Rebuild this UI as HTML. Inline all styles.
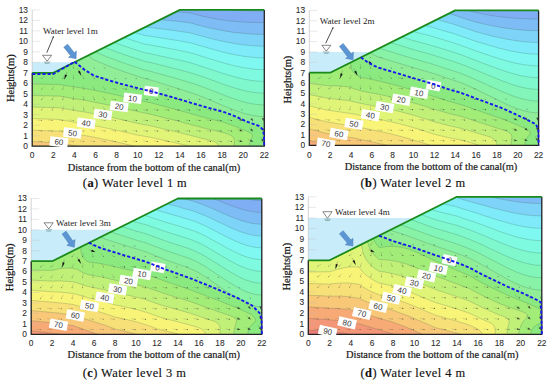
<!DOCTYPE html><html><head><meta charset="utf-8"><style>html,body{margin:0;padding:0;background:#fff}svg{display:block}</style></head><body><svg width="550" height="383" viewBox="0 0 550 383"><path d="M32.2,72.8 L32.2,62.3 L74.4,62.3 L53.3,72.8Z" fill="#c8ecfa"/><clipPath id="doma"><path d="M32.2,146.2 264.3,146.2 264.3,9.9 179.9,9.9 53.3,72.8 32.2,72.8Z"/></clipPath>
<g clip-path="url(#doma)">
<path d="M32.2,146.2 264.3,146.2 264.3,9.9 179.9,9.9 53.3,72.8 32.2,72.8Z" fill="#80aaf2"/>
<path d="M32.2,146.2 264.3,146.2 264.3,9.9 179.9,9.9 53.3,72.8 32.2,72.8Z" fill="#80acf4"/>
<path fill-rule="evenodd" d="M229,9.9 32.2,9.9 32.2,146.2 264.3,146.2 264.3,10.9 245.3,10.7 229,9.9Z" fill="#80aef4"/>
<path fill-rule="evenodd" d="M144.6,9.9 32.2,9.9 32.2,146.2 264.3,146.2 264.3,22.7 247.4,22.3 231.6,21.1 221,19.7 210.5,17.9 200.5,15.7 190.4,12.9 176.2,11.7 150.4,10 144.6,9.9Z" fill="#7ebcf6"/>
<path fill-rule="evenodd" d="M118.2,9.9 32.2,9.9 32.2,146.2 264.3,146.2 264.3,34.4 256.9,34.3 249,33.9 233.7,32.4 223.2,30.7 212.6,28.6 201.5,26 190.4,22.9 176.2,21.2 150.4,18.7 145.1,18.5 124,11.9 118.2,9.9Z" fill="#7ed4f8"/>
<path fill-rule="evenodd" d="M95.5,9.9 32.2,9.9 32.2,146.2 264.3,146.2 264.3,46.2 257.4,46 250.6,45.6 243.2,44.8 235.8,43.8 225.8,42 215.2,39.6 203.6,36.6 190.4,32.9 176.2,30.8 150.4,27.5 145.1,27.1 124,20.4 107.6,14.7 95.5,9.9Z" fill="#7eeafa"/>
<path fill-rule="evenodd" d="M83.4,9.9 32.2,9.9 32.2,146.2 264.3,146.2 264.3,57.9 258,57.8 251.1,57.2 244.3,56.4 237.4,55.2 227.9,53.3 217.9,50.8 190.4,42.8 176.2,40.3 150.4,36.2 145.1,35.7 124,29 107.6,23.1 93.4,17.4 83.8,9.9 83.4,9.9Z" fill="#7ef8f0"/>
<path fill-rule="evenodd" d="M74.9,9.9 32.2,9.9 32.2,146.2 264.3,146.2 264.3,69.7 258,69.5 251.6,68.9 244.8,67.9 237.9,66.6 230,64.7 221,62.2 190.4,52.8 176.2,49.8 150.4,45 145.1,44.3 142.4,43.5 124,37.5 107.6,31.6 93.4,25.8 83.9,18.4 74.9,9.9Z" fill="#7efae0"/>
<path fill-rule="evenodd" d="M58.6,9.9 32.2,9.9 32.2,146.2 264.3,146.2 264.3,81.4 258,81.2 251.6,80.5 244.8,79.3 237.4,77.6 223.7,73.7 190.4,62.7 176.2,59.4 150.4,53.8 145.1,52.9 124,46 107.6,40.1 93.4,34.3 83.9,26.8 74.4,17.7 58.6,9.9Z" fill="#7ef8cc"/>
<path fill-rule="evenodd" d="M41.7,9.9 32.2,9.9 32.2,146.2 264.3,146.2 264.3,93.1 258,92.9 251.6,92.1 244.8,90.8 237.4,88.8 225.8,85.1 202.6,76.7 192.6,73.4 175.7,68.8 150.4,62.5 145.1,61.5 124,54.6 107.6,48.6 93.4,42.7 83.9,35.2 74.4,26.1 41.7,9.9Z" fill="#82f6b8"/>
<path fill-rule="evenodd" d="M32.2,13.5 32.2,146.2 264.3,146.2 264.3,104.9 258.5,104.6 252.7,103.9 246.4,102.6 239.5,100.7 228.4,96.9 204.7,87.6 194.7,84 175.7,78.3 150.4,71.3 143,69.5 124,63.1 107.6,57.1 93.4,51.2 83.9,43.7 74.4,34.5 32.2,13.5Z" fill="#88f2a6"/>
<path fill-rule="evenodd" d="M32.2,21.9 32.2,146.2 264.3,146.2 264.3,116.6 259,116.4 253.2,115.6 246.9,114.2 240.6,112.3 230,108.5 206.3,98.4 196.3,94.5 175.7,87.8 150.4,80 142.4,77.9 124,71.7 107.1,65.4 93.4,59.6 83.9,52.1 74.4,42.9 32.2,21.9Z" fill="#90ee98"/>
<path fill-rule="evenodd" d="M74.9,62.1 74.4,62.1 73.9,62.6 73.3,62.6 72.8,63.1 72.3,63.1 71.2,64.2 70.7,64.2 70.2,64.7 69.1,64.7 68.6,65.2 68.1,65.2 67.5,65.7 67,65.7 66,66.8 65.4,66.8 64.9,67.3 63.9,67.3 63.3,67.8 62.8,67.8 62.3,68.4 61.7,68.4 60.7,69.4 60.2,69.4 59.6,69.9 58.6,69.9 58,70.4 57.5,70.4 57,71 56.5,71 55.4,72 54.9,72 54.4,72.5 32.2,72.5 32.2,146.2 264.3,146.2 264,145.7 264.2,141.5 264.1,135.2 264,134.1 263.7,133.6 263.5,132 263.1,131.5 263,129.9 262.5,129.4 262.5,128.9 262.2,128.6 261.7,128.6 258.5,125.7 257.4,125.7 256.9,125.1 255.9,125.1 255.3,124.6 254.3,124.6 253.8,124.1 252.7,124.1 252.2,123.6 251.1,123.6 250.6,123.1 250.1,123.1 249.5,122.5 248.5,122.5 247.9,122 246.9,122 246.4,121.5 245.8,121.5 245.3,121 244.8,121 244.3,120.5 243.7,120.5 243.2,119.9 242.1,119.9 241.6,119.4 241.1,119.4 240.6,118.9 240,118.9 239.5,118.4 239,118.4 238.5,117.8 237.9,117.8 237.4,117.3 236.3,117.3 235.8,116.8 235.3,116.8 234.8,116.3 233.7,116.3 233.2,115.7 232.7,115.7 232.1,115.2 231.6,115.2 231.1,114.7 230,114.7 229.5,114.2 229,114.2 228.4,113.7 227.4,113.6 226.8,113.1 226.3,113.1 225.8,112.6 224.7,112.6 224.2,112.1 222.6,112.1 222.1,111.5 220.5,111.5 220,111 218.9,111 218.4,110.5 216.8,110.5 216.3,110 215.2,110 214.7,109.4 213.1,109.4 212.6,108.9 211,108.9 210.5,108.4 209.4,108.3 208.9,107.8 207.3,107.8 206.8,107.3 205.2,107.3 204.7,106.8 203.6,106.7 203.1,106.2 201.5,106.1 201,105.7 199.9,105.6 199.4,105.1 197.8,105 197.3,104.6 196.3,104.5 195.7,104 194.7,104 194.1,103.5 192.6,103.5 192,103 191,103 190.4,102.4 189.4,102.4 188.9,101.9 187.3,101.9 186.8,101.4 185.7,101.4 185.2,100.9 184.1,100.9 183.6,100.3 182.5,100.3 182,99.8 180.4,99.8 179.9,99.3 178.8,99.3 178.3,98.8 177.3,98.8 176.7,98.2 175.2,98.2 174.6,97.7 173.6,97.7 173,97.2 171.5,97.2 170.9,96.7 169.4,96.7 168.8,96.1 167.8,96.1 167.2,95.6 165.7,95.6 165.1,95.1 164.1,95.1 163.5,94.6 162,94.6 161.4,94 160.4,94 159.9,93.5 158.3,93.5 157.7,93 156.7,93 156.2,92.5 154.6,92.5 154.1,91.9 152.5,91.9 151.9,91.4 150.9,91.4 150.4,90.9 148.8,90.9 148.2,90.4 146.1,90.4 145.6,89.8 144,89.8 143.5,89.3 141.4,89.3 140.9,88.8 139.3,88.8 138.8,88.3 137.2,88.3 136.6,87.7 135.6,87.7 135.1,87.2 133.5,87.2 133,86.7 131.4,86.7 130.8,86.2 129.3,86.2 128.7,85.7 127.2,85.7 126.6,85.1 125,85.1 124.5,84.6 122.9,84.6 122.4,84.1 121.3,84.1 120.8,83.6 119.2,83.6 118.7,83 117.7,83 117.1,82.5 115.5,82.5 115,82 114,82 113.4,81.5 111.9,81.5 111.3,80.9 110.3,80.9 109.7,80.4 108.2,80.4 107.6,79.9 106.6,79.9 106.1,79.4 105,79.4 104.5,78.8 103.4,78.8 102.9,78.3 101.8,78.3 101.3,77.8 100.2,77.8 99.7,77.3 98.7,77.3 98.1,76.7 97.1,76.7 96.6,76.2 95.5,76.2 95,75.7 93.9,75.7 93.4,75.2 92.9,75.2 91.8,74.1 91.3,74.1 90.2,73.1 89.7,73.1 89.2,72.5 88.6,72.5 87.6,71.5 87.1,71.5 86,70.4 85.5,70.4 85,69.9 84.4,69.9 82.3,67.8 81.8,67.8 79.7,65.7 79.1,65.7 76.5,63.1 76,63.1 74.9,62.1Z" fill="#8aea80"/>
<path fill-rule="evenodd" d="M52.8,84.3 32.2,83.9 32.2,146.2 249.2,146.2 249.5,143.6 250,141.5 252.3,136.8 252.4,135.7 252.2,134.7 251.3,133.6 249.5,132.4 236.3,126.8 225.3,122.8 202.1,116.8 176.2,109.5 150.4,102.7 142.4,101 114.5,94.5 93.4,90.1 86,88.7 59.6,84.5 52.8,84.3Z" fill="#a2ec78"/>
<path fill-rule="evenodd" d="M48.6,95.9 32.2,95.5 32.2,146.2 234.2,146.2 234.5,140.4 234.1,138.9 233.6,137.8 232.1,136.2 230.6,135.2 228.2,134.1 225.3,133.1 202.1,127.6 176.2,120.7 150.4,114.2 137.7,111.6 111.3,105.5 86,100.5 72.3,98.4 59.6,96.1 48.6,95.9Z" fill="#c0f078"/>
<path fill-rule="evenodd" d="M45.9,107.4 32.2,107 32.2,146.2 218.7,146.2 218,144.6 216.6,143.1 214.7,141.8 212.1,140.8 202.1,138.4 176.2,131.8 150.4,125.8 137.7,123.4 112.9,117.6 86,112.2 74.4,110.5 59.6,107.8 45.9,107.4Z" fill="#e0f478"/>
<path fill-rule="evenodd" d="M43.8,118.9 32.2,118.5 32.2,146.2 189.6,146.2 176.2,143 150.4,137.3 137.7,135.1 115,129.8 93.4,125.3 86,124 72.3,121.8 59.6,119.5 43.8,118.9Z" fill="#f8f478"/>
<path fill-rule="evenodd" d="M42.2,130.5 32.2,130.1 32.2,146.2 134.9,146.2 115,141.6 97.1,137.8 86,135.7 74.4,133.9 59.6,131.2 42.2,130.5Z" fill="#f8e078"/>
<path fill-rule="evenodd" d="M41.2,142 32.2,141.6 32.2,146.2 77.8,146.2 59.6,142.8 41.2,142Z" fill="#f8c878"/>
<path d="M264.3,10.9 244.8,10.7 229.5,9.9M264.3,22.7 247.4,22.3 231.6,21.1 221,19.7 210.5,17.9 200.5,15.7 190.4,12.9 176.2,11.7 150.4,10 145,9.9M264.3,34.4 256.9,34.3 249,33.9 233.7,32.4 223.2,30.7 212.6,28.6 201.5,26 190.4,22.9 176.2,21.2 150.4,18.7 145.1,18.5 124,11.9 118.3,9.9M264.3,46.2 257.4,46 250.6,45.6 243.2,44.8 235.8,43.8 225.8,42 215.2,39.6 203.6,36.6 190.4,32.9 176.2,30.8 150.4,27.5 145.1,27.1 124,20.4 107.6,14.7 95.8,9.9M264.3,57.9 258,57.8 251.1,57.2 244.3,56.4 237.4,55.2 227.9,53.3 217.9,50.8 190.4,42.8 176.2,40.3 150.4,36.2 145.1,35.7 124,29 107.6,23.1 93.4,17.4 83.8,9.9M264.3,69.7 258,69.5 251.6,68.9 244.8,67.9 237.9,66.6 230,64.7 221,62.2 190.4,52.8 176.2,49.8 150.4,45 145.1,44.3 142.4,43.5 124,37.5 107.6,31.6 93.4,25.8 83.9,18.4 75.1,9.9M264.3,81.4 258,81.2 251.6,80.5 244.8,79.3 237.4,77.6 223.7,73.7 190.4,62.7 176.2,59.4 150.4,53.8 145.1,52.9 124,46 107.6,40.1 93.4,34.3 83.9,26.8 74.4,17.7 58.7,9.9M264.3,93.1 258,92.9 251.6,92.1 244.8,90.8 237.4,88.8 225.8,85.1 202.6,76.7 192.6,73.4 175.7,68.8 150.4,62.5 145.1,61.5 124,54.6 107.6,48.6 93.4,42.7 83.9,35.2 74.4,26.1 41.8,9.9M264.3,104.9 258.5,104.6 252.7,103.9 246.4,102.6 239.5,100.7 228.4,96.9 204.7,87.6 194.7,84 175.7,78.3 150.4,71.3 143,69.5 124,63.1 107.6,57.1 93.4,51.2 83.9,43.7 74.4,34.5 32.2,13.5M264.3,116.6 259,116.4 253.2,115.6 246.9,114.2 240.6,112.3 230,108.5 206.3,98.4 196.3,94.5 175.7,87.8 150.4,80 142.4,77.9 124,71.7 107.1,65.4 93.4,59.6 83.9,52.1 74.4,42.9 32.2,21.9M249.2,146.2 249.5,143.6 250,141.5 250.6,139.9 252,137.3 252.4,136.2 252.2,134.7 251.3,133.6 248.8,132 236.3,126.8 224.7,122.6 202.1,116.8 176.2,109.5 150.4,102.7 142.4,101 115,94.6 97.1,90.8 86,88.7 59.6,84.5 32.2,83.9M234.2,146.2 234.5,141 234.1,138.9 233.6,137.8 232.7,136.7 231.4,135.7 229.5,134.7 224.7,133 202.1,127.6 175.7,120.5 149.8,114.1 137.7,111.6 112.4,105.8 86,100.5 72.3,98.4 59.6,96.1 32.2,95.5M218.7,146.2 217.6,144.1 215.9,142.5 213.7,141.3 211,140.5 202.1,138.4 176.2,131.8 150.4,125.8 137.7,123.4 111.3,117.3 86,112.2 74.4,110.5 59.6,107.8 32.2,107M189.6,146.2 176.2,143 150.4,137.3 137.7,135.1 112.9,129.4 86,124 74.4,122.2 59.6,119.5 32.2,118.5M134.9,146.2 115,141.6 97.1,137.8 86,135.7 74.4,133.9 59.6,131.2 32.2,130.1M77.8,146.2 59.6,142.8 32.2,141.6" fill="none" stroke="#3a5a48" stroke-opacity="0.45" stroke-width="0.5"/>
</g><path d="M32.2,72.8V9.9" stroke="#c8c8c8" stroke-width="0.8" fill="none"/>
<path d="M32.2,146.2h8M32.2,135.7h8M32.2,125.2h8M32.2,114.7h8M32.2,104.3h8M32.2,93.8h8M32.2,83.3h8M32.2,72.8h8M32.2,62.3h8M32.2,51.8h8M32.2,41.4h8M32.2,30.9h8M32.2,20.4h8M32.2,9.9h8" stroke="#bbb" stroke-opacity="0.55" stroke-width="0.6" fill="none"/>
<path d="M32.2,72.8V146.2H264.3V9.9" stroke="#222" stroke-width="1.3" fill="none"/>
<path d="M32.2,72.8L53.3,72.8L179.9,9.9L264.3,9.9" stroke="#1a8a1a" stroke-width="1.8" fill="none" stroke-linejoin="round"/>
<path d="M37.7,141L41.7,141.5M37.7,130.5L41.7,131M37.7,120L41.7,120.5M43.6,106.9L41.7,110M43.9,96.6L41.7,99.5M44.3,86.5L41.7,89.1M44.8,76.5L41.7,78.6M48.3,141L52.2,141.5M48.3,130.5L52.2,131M48.3,120L52.2,120.5M53.7,106.6L52.2,110M53.9,96.3L52.2,99.5M54.3,86L52.2,89.1M54.9,76L52.2,78.6M58.8,141L62.8,141.5M58.8,130.5L62.8,131M58.8,120L62.8,120.5M63.6,106.4L62.8,110M63.8,96L62.8,99.5M64,85.6L62.8,89.1M64.5,75.3L62.8,78.6M69.4,141L73.3,141.5M69.4,130.5L73.3,131M69.4,120L73.3,120.5M73.4,106.4L73.3,110M73.5,95.9L73.3,99.5M73.5,85.4L73.3,89.1M73.6,74.9L73.3,78.6M73.7,64.4L73.3,68.1M79.9,141L83.9,141.5M79.9,130.5L83.9,131M79.9,120L83.9,120.5M83.3,106.4L83.9,110M83.1,96L83.9,99.5M82.9,85.5L83.9,89.1M82.5,75.2L83.9,78.6M82.9,66.9L83.9,68.1M90.5,141L94.4,141.5M90.5,130.5L94.4,131M90.5,120L94.4,120.5M93.2,106.6L94.4,110M92.9,96.2L94.4,99.5M92.5,85.9L94.4,89.1M92,75.8L94.4,78.6M93.1,67.3L94.4,68.1M101,141L105,141.5M101,130.5L105,131M101,120L105,120.5M103.2,106.8L105,110M102.9,96.5L105,99.5M102.5,86.4L105,89.1M103.7,77.6L105,78.6M103.5,67.5L105,68.1M111.6,141L115.5,141.5M111.6,130.5L115.5,131M111.6,120L115.5,120.5M111.6,109.6L115.5,110M111.6,99.1L115.5,99.5M111.6,88.6L115.5,89.1M114,78.4L115.5,78.6M122.1,141L126.1,141.5M122.1,130.5L126.1,131M122.1,120L126.1,120.5M122.1,109.6L126.1,110M122.1,99.1L126.1,99.5M122.1,88.6L126.1,89.1M124.5,78.4L126.1,78.6M132.7,141L136.6,141.5M132.7,130.5L136.6,131M132.7,120L136.6,120.5M132.7,109.6L136.6,110M132.7,99.1L136.6,99.5M132.7,88.6L136.6,89.1M135.1,78.4L136.6,78.6M143.2,141L147.2,141.5M143.2,130.5L147.2,131M143.2,120L147.2,120.5M143.2,109.6L147.2,110M143.2,99.1L147.2,99.5M145.6,88.9L147.2,89.1M145.6,78.4L147.2,78.6M153.8,141L157.7,141.5M153.8,130.5L157.7,131M153.8,120L157.7,120.5M153.8,109.6L157.7,110M153.8,99.1L157.7,99.5M156.2,88.9L157.7,89.1M164.3,141L168.3,141.5M164.3,130.5L168.3,131M164.3,120L168.3,120.5M164.3,109.6L168.3,110M164.3,99.1L168.3,99.5M166.7,88.9L168.3,89.1M174.9,141L178.8,141.5M174.9,130.5L178.8,131M174.9,120L178.8,120.5M174.9,109.6L178.8,110M174.9,99.1L178.8,99.5M177.3,88.9L178.8,89.1M185.4,141L189.4,141.5M185.4,130.5L189.4,131M185.4,120L189.4,120.5M185.4,109.6L189.4,110M187.8,99.4L189.4,99.5M196,141L199.9,141.5M196,130.5L199.9,131M196,120L199.9,120.5M196,109.6L199.9,110M198.4,99.4L199.9,99.5M206.5,141L210.5,141.5M206.5,130.5L210.5,131M206.5,120L210.5,120.5M206.5,109.6L210.5,110M208.9,99.4L210.5,99.5M217.1,141L221,141.5M217.1,130.5L221,131M217.1,120L221,120.5M219.5,109.8L221,110M219.5,99.4L221,99.5M227.6,141L231.6,141.5M227.6,130.3L231.6,131M227.7,119.8L231.6,120.5M230,109.7L231.6,110M237,140.4L242.1,141.5M237.2,129.2L242.1,131M237.4,118.2L242.1,120.5M240.8,109.2L242.1,110M247.9,139.4L252.7,141.5M248.8,127.4L252.7,131M251.7,119.3L252.7,120.5M260.8,136.9L263.2,141.5M262.9,129.5L263.2,131M263,119L263.2,120.5" stroke="#555" stroke-opacity="0.45" stroke-width="0.45" fill="none"/>
<g fill="#222" fill-opacity="0.75"><circle cx="41.7" cy="141.5" r="0.45"/><circle cx="41.7" cy="131" r="0.45"/><circle cx="41.7" cy="120.5" r="0.45"/><circle cx="41.7" cy="110" r="0.45"/><circle cx="41.7" cy="99.5" r="0.45"/><circle cx="41.7" cy="89.1" r="0.45"/><circle cx="41.7" cy="78.6" r="0.45"/><circle cx="52.2" cy="141.5" r="0.45"/><circle cx="52.2" cy="131" r="0.45"/><circle cx="52.2" cy="120.5" r="0.45"/><circle cx="52.2" cy="110" r="0.45"/><circle cx="52.2" cy="99.5" r="0.45"/><circle cx="52.2" cy="89.1" r="0.45"/><circle cx="52.2" cy="78.6" r="0.45"/><circle cx="62.8" cy="141.5" r="0.45"/><circle cx="62.8" cy="131" r="0.45"/><circle cx="62.8" cy="120.5" r="0.45"/><circle cx="62.8" cy="110" r="0.45"/><circle cx="62.8" cy="99.5" r="0.45"/><circle cx="62.8" cy="89.1" r="0.45"/><circle cx="62.8" cy="78.6" r="0.45"/><circle cx="73.3" cy="141.5" r="0.45"/><circle cx="73.3" cy="131" r="0.45"/><circle cx="73.3" cy="120.5" r="0.45"/><circle cx="73.3" cy="110" r="0.45"/><circle cx="73.3" cy="99.5" r="0.45"/><circle cx="73.3" cy="89.1" r="0.45"/><circle cx="73.3" cy="78.6" r="0.45"/><circle cx="73.3" cy="68.1" r="0.45"/><circle cx="83.9" cy="141.5" r="0.45"/><circle cx="83.9" cy="131" r="0.45"/><circle cx="83.9" cy="120.5" r="0.45"/><circle cx="83.9" cy="110" r="0.45"/><circle cx="83.9" cy="99.5" r="0.45"/><circle cx="83.9" cy="89.1" r="0.45"/><circle cx="83.9" cy="78.6" r="0.45"/><circle cx="83.9" cy="68.1" r="0.4"/><circle cx="94.4" cy="141.5" r="0.45"/><circle cx="94.4" cy="131" r="0.45"/><circle cx="94.4" cy="120.5" r="0.45"/><circle cx="94.4" cy="110" r="0.45"/><circle cx="94.4" cy="99.5" r="0.45"/><circle cx="94.4" cy="89.1" r="0.45"/><circle cx="94.4" cy="78.6" r="0.45"/><circle cx="94.4" cy="68.1" r="0.4"/><circle cx="105" cy="141.5" r="0.45"/><circle cx="105" cy="131" r="0.45"/><circle cx="105" cy="120.5" r="0.45"/><circle cx="105" cy="110" r="0.45"/><circle cx="105" cy="99.5" r="0.45"/><circle cx="105" cy="89.1" r="0.45"/><circle cx="105" cy="78.6" r="0.4"/><circle cx="105" cy="68.1" r="0.4"/><circle cx="115.5" cy="141.5" r="0.45"/><circle cx="115.5" cy="131" r="0.45"/><circle cx="115.5" cy="120.5" r="0.45"/><circle cx="115.5" cy="110" r="0.45"/><circle cx="115.5" cy="99.5" r="0.45"/><circle cx="115.5" cy="89.1" r="0.45"/><circle cx="115.5" cy="78.6" r="0.4"/><circle cx="126.1" cy="141.5" r="0.55"/><circle cx="126.1" cy="131" r="0.55"/><circle cx="126.1" cy="120.5" r="0.55"/><circle cx="126.1" cy="110" r="0.55"/><circle cx="126.1" cy="99.5" r="0.55"/><circle cx="126.1" cy="89.1" r="0.55"/><circle cx="126.1" cy="78.6" r="0.4"/><circle cx="136.6" cy="141.5" r="0.55"/><circle cx="136.6" cy="131" r="0.55"/><circle cx="136.6" cy="120.5" r="0.55"/><circle cx="136.6" cy="110" r="0.55"/><circle cx="136.6" cy="99.5" r="0.55"/><circle cx="136.6" cy="89.1" r="0.55"/><circle cx="136.6" cy="78.6" r="0.4"/><circle cx="147.2" cy="141.5" r="0.55"/><circle cx="147.2" cy="131" r="0.55"/><circle cx="147.2" cy="120.5" r="0.55"/><circle cx="147.2" cy="110" r="0.55"/><circle cx="147.2" cy="99.5" r="0.55"/><circle cx="147.2" cy="89.1" r="0.4"/><circle cx="147.2" cy="78.6" r="0.4"/><circle cx="157.7" cy="141.5" r="0.55"/><circle cx="157.7" cy="131" r="0.55"/><circle cx="157.7" cy="120.5" r="0.55"/><circle cx="157.7" cy="110" r="0.55"/><circle cx="157.7" cy="99.5" r="0.55"/><circle cx="157.7" cy="89.1" r="0.4"/><circle cx="168.3" cy="141.5" r="0.55"/><circle cx="168.3" cy="131" r="0.55"/><circle cx="168.3" cy="120.5" r="0.55"/><circle cx="168.3" cy="110" r="0.55"/><circle cx="168.3" cy="99.5" r="0.55"/><circle cx="168.3" cy="89.1" r="0.4"/><circle cx="178.8" cy="141.5" r="0.55"/><circle cx="178.8" cy="131" r="0.55"/><circle cx="178.8" cy="120.5" r="0.55"/><circle cx="178.8" cy="110" r="0.55"/><circle cx="178.8" cy="99.5" r="0.55"/><circle cx="178.8" cy="89.1" r="0.4"/><circle cx="189.4" cy="141.5" r="0.55"/><circle cx="189.4" cy="131" r="0.55"/><circle cx="189.4" cy="120.5" r="0.55"/><circle cx="189.4" cy="110" r="0.55"/><circle cx="189.4" cy="99.5" r="0.4"/><circle cx="199.9" cy="141.5" r="0.55"/><circle cx="199.9" cy="131" r="0.55"/><circle cx="199.9" cy="120.5" r="0.55"/><circle cx="199.9" cy="110" r="0.55"/><circle cx="199.9" cy="99.5" r="0.4"/><circle cx="210.5" cy="141.5" r="0.55"/><circle cx="210.5" cy="131" r="0.55"/><circle cx="210.5" cy="120.5" r="0.55"/><circle cx="210.5" cy="110" r="0.55"/><circle cx="210.5" cy="99.5" r="0.4"/><circle cx="221" cy="141.5" r="0.55"/><circle cx="221" cy="131" r="0.55"/><circle cx="221" cy="120.5" r="0.55"/><circle cx="221" cy="110" r="0.4"/><circle cx="221" cy="99.5" r="0.4"/><circle cx="231.6" cy="141.5" r="0.55"/><circle cx="231.6" cy="131" r="0.55"/><circle cx="231.6" cy="120.5" r="0.55"/><circle cx="231.6" cy="110" r="0.4"/><path transform="translate(242.1,141.5) rotate(12)" d="M0.8,0L-2.4,-1.1L-2.4,1.1Z"/><path transform="translate(242.1,131) rotate(20)" d="M0.8,0L-2.4,-1.1L-2.4,1.1Z"/><path transform="translate(242.1,120.5) rotate(26)" d="M0.8,0L-2.4,-1.1L-2.4,1.1Z"/><circle cx="242.1" cy="110" r="0.4"/><path transform="translate(252.7,141.5) rotate(24)" d="M0.8,0L-2.4,-1.1L-2.4,1.1Z"/><path transform="translate(252.7,131) rotate(43)" d="M0.8,0L-2.4,-1.1L-2.4,1.1Z"/><path transform="translate(252.7,120.5) rotate(53)" d="M0.8,0L-2.4,-1.1L-2.4,1.1Z"/><path transform="translate(263.2,141.5) rotate(62)" d="M0.8,0L-2.4,-1.1L-2.4,1.1Z"/><path transform="translate(263.2,131) rotate(77)" d="M0.8,0L-2.4,-1.1L-2.4,1.1Z"/><path transform="translate(263.2,120.5) rotate(82)" d="M0.8,0L-2.4,-1.1L-2.4,1.1Z"/></g>
<g transform="translate(64.3,79.6) rotate(110)"><path d="M-8.0,0L0,0" stroke="#444" stroke-opacity="0.5" stroke-width="0.5"/><path d="M0,0L-5.0,-1.1L-5.0,1.1Z" fill="#111"/></g>
<g transform="translate(81.3,75.7) rotate(62)"><path d="M-8.0,0L0,0" stroke="#444" stroke-opacity="0.5" stroke-width="0.5"/><path d="M0,0L-5.0,-1.1L-5.0,1.1Z" fill="#111"/></g>
<g transform="translate(151.3,91.2) rotate(7)"><rect x="-7.0" y="-4.7" width="14" height="9.4" fill="#fff"/><text x="0" y="2.9" font-family="Liberation Sans" font-size="8" text-anchor="middle" fill="#3a3a3a">0</text></g>
<g transform="translate(132.6,98.3) rotate(7)"><rect x="-9.0" y="-4.7" width="18" height="9.4" fill="#fff"/><text x="0" y="2.9" font-family="Liberation Sans" font-size="8" text-anchor="middle" fill="#3a3a3a">10</text></g>
<g transform="translate(119.2,106.5) rotate(7)"><rect x="-9.0" y="-4.7" width="18" height="9.4" fill="#fff"/><text x="0" y="2.9" font-family="Liberation Sans" font-size="8" text-anchor="middle" fill="#3a3a3a">20</text></g>
<g transform="translate(102.8,114.5) rotate(7)"><rect x="-9.0" y="-4.7" width="18" height="9.4" fill="#fff"/><text x="0" y="2.9" font-family="Liberation Sans" font-size="8" text-anchor="middle" fill="#3a3a3a">30</text></g>
<g transform="translate(86.1,123.2) rotate(7)"><rect x="-9.0" y="-4.7" width="18" height="9.4" fill="#fff"/><text x="0" y="2.9" font-family="Liberation Sans" font-size="8" text-anchor="middle" fill="#3a3a3a">40</text></g>
<g transform="translate(72.5,133.1) rotate(7)"><rect x="-9.0" y="-4.7" width="18" height="9.4" fill="#fff"/><text x="0" y="2.9" font-family="Liberation Sans" font-size="8" text-anchor="middle" fill="#3a3a3a">50</text></g>
<g transform="translate(58.9,141.9) rotate(7)"><rect x="-9.0" y="-4.7" width="18" height="9.4" fill="#fff"/><text x="0" y="2.9" font-family="Liberation Sans" font-size="8" text-anchor="middle" fill="#3a3a3a">60</text></g>
<path d="M74.6,61.8 84,69.4 93.4,75.3 107.5,80 124,84.7 142.7,89.4 150,91 176.1,98.3 202.2,106.1 225,112.3 236.2,116.8 247.5,121.9 258.7,125.8 262.6,129.2 263.8,134.2 264.3,146.2" stroke="#1818ee" stroke-width="1.9" fill="none" stroke-dasharray="3.2 1.9"/>
<path d="M32.2,74L53.3,74L74.6,61.8" stroke="#1818ee" stroke-width="1.9" fill="none" stroke-dasharray="3.2 1.9"/>
<path d="M42.6,55.3L51.7,55.3L47.1,61.2Z" fill="#fff" stroke="#555" stroke-width="0.7"/>
<path d="M43.9,62.1h6.4M44.9,63.400000000000006h4.4" stroke="#8aa" stroke-width="0.9"/>
<path d="M53.3,37L46.8,52.7" stroke="#222" stroke-width="0.8"/><circle cx="53.3" cy="37" r="0.7" fill="#222"/>
<text x="43.1" y="34.4" font-family="Liberation Serif" font-size="9" fill="#222">Water level 1m</text>
<g transform="translate(65.7,45.699999999999996) rotate(51.3)"><path d="M0,-2.4L10.8,-2.4L10.8,-5.0L16.6,0L10.8,5.0L10.8,2.4L0,2.4Z" fill="#5b95d3" stroke="#4a7fb8" stroke-width="0.5"/></g>
<g font-family="Liberation Sans" font-size="8.4" fill="#2a2a2a" stroke="#2a2a2a" stroke-width="0.08"><text x="28" y="149" text-anchor="end">0</text><text x="28" y="138.5" text-anchor="end">1</text><text x="28" y="128" text-anchor="end">2</text><text x="28" y="117.5" text-anchor="end">3</text><text x="28" y="107.1" text-anchor="end">4</text><text x="28" y="96.6" text-anchor="end">5</text><text x="28" y="86.1" text-anchor="end">6</text><text x="28" y="75.6" text-anchor="end">7</text><text x="28" y="65.1" text-anchor="end">8</text><text x="28" y="54.6" text-anchor="end">9</text><text x="28" y="44.2" text-anchor="end">10</text><text x="28" y="33.7" text-anchor="end">11</text><text x="28" y="23.2" text-anchor="end">12</text><text x="28" y="12.7" text-anchor="end">13</text><text x="32.2" y="157.8" text-anchor="middle">0</text><text x="53.3" y="157.8" text-anchor="middle">2</text><text x="74.4" y="157.8" text-anchor="middle">4</text><text x="95.5" y="157.8" text-anchor="middle">6</text><text x="116.6" y="157.8" text-anchor="middle">8</text><text x="137.7" y="157.8" text-anchor="middle">10</text><text x="158.8" y="157.8" text-anchor="middle">12</text><text x="179.9" y="157.8" text-anchor="middle">14</text><text x="201" y="157.8" text-anchor="middle">16</text><text x="222.1" y="157.8" text-anchor="middle">18</text><text x="243.2" y="157.8" text-anchor="middle">20</text><text x="264.3" y="157.8" text-anchor="middle">22</text></g>
<text transform="translate(14.1,78.2) rotate(-90)" text-anchor="middle" font-family="Liberation Serif" font-size="10.5" fill="#1a1a1a" stroke="#1a1a1a" stroke-width="0.25">Heights(m)</text>
<text x="154.0" y="170.7" text-anchor="middle" font-family="Liberation Serif" font-size="10.4" fill="#1a1a1a" stroke="#1a1a1a" stroke-width="0.2">Distance from the bottom of the canal(m)</text>
<text x="135.0" y="187.3" text-anchor="middle" font-family="Liberation Serif" font-size="12.4" letter-spacing="0.45" fill="#111" stroke="#111" stroke-width="0.15">(<tspan font-weight="bold">a</tspan>) Water level 1 m</text><path d="M309.3,72.7 L309.3,51.9 L371.8,51.9 L330.1,72.7Z" fill="#c8ecfa"/><clipPath id="domb"><path d="M309.3,145.4 538.6,145.4 538.6,10.4 455.2,10.4 330.1,72.7 309.3,72.7Z"/></clipPath>
<g clip-path="url(#domb)">
<path d="M309.3,145.4 538.6,145.4 538.6,10.4 455.2,10.4 330.1,72.7 309.3,72.7Z" fill="#80aaf2"/>
<path d="M309.3,145.4 538.6,145.4 538.6,10.4 455.2,10.4 330.1,72.7 309.3,72.7Z" fill="#80acf4"/>
<path d="M309.3,145.4 538.6,145.4 538.6,10.4 455.2,10.4 330.1,72.7 309.3,72.7Z" fill="#80aef4"/>
<path fill-rule="evenodd" d="M467.7,10.4 309.3,10.4 309.3,145.4 538.6,145.4 538.6,19 528.7,18.9 519.3,18.5 509.9,17.8 500.6,16.8 491.2,15.5 481.8,13.8 476.1,12.6 467.7,10.4Z" fill="#7ebcf6"/>
<path fill-rule="evenodd" d="M437,10.4 309.3,10.4 309.3,145.4 538.6,145.4 538.6,30.8 527.1,30.4 515.7,29.5 503.7,27.9 491.2,25.6 476.1,22.2 465.6,19 455.2,15.4 437,10.4Z" fill="#7ed4f8"/>
<path fill-rule="evenodd" d="M403.1,10.4 309.3,10.4 309.3,145.4 538.6,145.4 538.6,42.5 528.7,42.1 517.8,41 506.3,39.1 493.8,36.4 476.1,31.8 455.2,24.7 447.9,22.6 431.8,18 413.5,13.5 403.1,10.4Z" fill="#7eeafa"/>
<path fill-rule="evenodd" d="M375,10.4 309.3,10.4 309.3,145.4 538.6,145.4 538.6,54.2 529.7,53.9 520.4,52.7 509.9,50.8 498.5,48 476.1,41.4 455.2,34.1 431.8,27.2 413.5,22.5 377.6,11.6 375,10.4Z" fill="#7ef8f0"/>
<path fill-rule="evenodd" d="M361.9,10.4 309.3,10.4 309.3,145.4 538.6,145.4 538.6,66 531.3,65.6 523.5,64.7 515.1,63.1 506.3,60.8 494.8,57.3 476.1,51 462,45.8 455.2,43.4 431.8,36.3 413.5,31.6 377.6,20.7 371.8,17.8 368.2,15.5 362.4,10.4 361.9,10.4Z" fill="#7efae0"/>
<path fill-rule="evenodd" d="M345.3,10.4 309.3,10.4 309.3,145.4 538.6,145.4 538.6,77.7 532.3,77.4 525.6,76.6 518.3,75.1 510.5,73 496.4,68.2 476.1,60.6 462,55.1 455.2,52.8 431.8,45.5 413.5,40.6 377.6,29.7 371.8,26.8 368.2,24.5 360.9,18.1 345.3,10.4Z" fill="#7ef8cc"/>
<path fill-rule="evenodd" d="M327,10.4 309.3,10.4 309.3,145.4 538.6,145.4 538.6,89.4 532.9,89.2 526.6,88.3 520.4,87 513.6,85 501.6,80.7 468.8,67.1 462,64.5 455.2,62.1 431.8,54.7 413.5,49.6 377.6,38.7 371.8,35.9 368.2,33.5 360.9,27.1 327,10.4Z" fill="#82f6b8"/>
<path fill-rule="evenodd" d="M309.8,10.7 309.3,10.5 309.3,145.4 538.6,145.4 538.6,101.2 533.4,100.9 528.2,100.2 522.4,98.9 516.2,97.1 510.5,95 503.7,92.3 471.9,77.9 461.5,73.6 431.8,63.9 413.5,58.7 377.6,47.8 371.8,44.9 368.2,42.6 360.9,36.2 309.8,10.7Z" fill="#88f2a6"/>
<path fill-rule="evenodd" d="M309.3,19.5 309.3,145.4 538.6,145.4 538.6,112.9 533.9,112.7 528.7,111.9 523.5,110.7 517.8,108.9 512,106.7 505.8,104 479.7,91.1 469.8,86.4 462,83.1 431.8,73 413.5,67.7 377,56.6 371.8,53.9 368.2,51.6 360.9,45.2 309.3,19.5Z" fill="#90ee98"/>
<path fill-rule="evenodd" d="M360.9,57.4 360.4,57.9 359.3,57.8 358.8,58.3 358.3,58.3 357.8,58.8 357.2,58.8 356.7,59.3 356.2,59.3 355.2,60.3 354.1,60.3 353.6,60.8 353.1,60.8 352.6,61.3 352,61.3 351.5,61.8 351,61.8 350.5,62.3 349.9,62.3 349.4,62.9 348.9,62.9 347.9,63.9 347.3,63.9 346.8,64.4 345.8,64.4 345.3,64.9 344.7,64.9 344.2,65.5 343.7,65.5 342.7,66.5 342.1,66.5 341.6,67 340.6,67 340,67.5 339.5,67.5 339,68.1 338.5,68.1 337.4,69.1 336.9,69.1 336.4,69.6 335.4,69.6 334.8,70.1 334.3,70.1 333.8,70.7 333.3,70.7 332.2,71.7 331.7,71.7 331.2,72.2 309.3,72.2 309.3,145.4 538.6,145.4 538.3,144.9 538.6,138.7 538.4,130.3 538.3,129.8 537.9,129.3 537.8,128.3 536.9,126.7 536.8,125.7 536.3,125.2 536.3,124.6 535.5,123.9 535,123.9 534.4,123.4 533.9,123.4 533.4,122.9 532.9,122.9 532.3,122.4 531.8,122.4 531.3,121.9 530.8,121.9 530.3,121.4 529.7,121.4 529.2,120.9 528.7,120.9 528.2,120.4 527.7,120.4 527.1,119.9 526.6,119.9 526.1,119.4 525.6,119.4 525.1,118.9 524.5,118.9 524,118.3 523.5,118.3 523,117.8 522.4,117.8 521.9,117.3 521.4,117.3 520.9,116.8 520.4,116.8 519.8,116.3 519.3,116.3 518.8,115.8 517.8,115.7 517.2,115.2 516.7,115.2 516.2,114.7 515.7,114.7 515.1,114.2 514.6,114.2 514.1,113.7 513.6,113.7 513.1,113.2 512.5,113.2 512,112.6 511,112.6 510.5,112.1 509.9,112.1 509.4,111.6 508.9,111.6 508.4,111.1 507.9,111.1 507.3,110.6 506.8,110.6 506.3,110 505.8,110 505.2,109.5 504.7,109.5 504.2,109 503.2,109 502.6,108.5 502.1,108.5 501.6,108 500.6,108 500,107.4 499,107.4 498.5,106.9 498,106.9 497.4,106.4 496.4,106.4 495.9,105.9 494.8,105.9 494.3,105.4 493.8,105.4 493.3,104.8 492.2,104.8 491.7,104.3 490.7,104.3 490.1,103.8 489.6,103.8 489.1,103.3 488,103.3 487.5,102.7 486.5,102.7 486,102.2 485.4,102.2 484.9,101.7 483.9,101.7 483.4,101.2 482.3,101.1 481.8,100.6 481.3,100.6 480.8,100.1 479.7,100.1 479.2,99.6 478.1,99.5 477.6,99 477.1,99 476.6,98.5 475.5,98.4 475,98 474,97.9 473.5,97.4 472.9,97.4 472.4,96.9 471.4,96.9 470.9,96.3 469.8,96.3 469.3,95.8 468.8,95.8 468.2,95.3 467.2,95.3 466.7,94.8 465.6,94.8 465.1,94.3 464.6,94.3 464.1,93.7 463,93.7 462.5,93.2 461.5,93.2 461,92.7 459.9,92.7 459.4,92.2 457.8,92.2 457.3,91.7 456.3,91.6 455.7,91.1 454.7,91.1 454.2,90.6 452.6,90.6 452.1,90.1 451,90.1 450.5,89.6 449,89.5 448.4,89.1 447.4,89 446.9,88.5 445.8,88.5 445.3,88 444.3,88 443.8,87.5 442.7,87.5 442.2,87 441.1,86.9 440.6,86.5 439.6,86.4 439.1,85.9 438.5,85.9 438,85.4 437,85.4 436.5,84.9 435.4,84.9 434.9,84.4 433.9,84.3 433.3,83.9 432.3,83.8 431.8,83.3 430.2,83.3 429.7,82.8 428.6,82.8 428.1,82.3 427.1,82.2 426.6,81.8 425,81.7 424.5,81.2 423.4,81.2 422.9,80.7 421.3,80.7 420.8,80.2 419.8,80.1 419.3,79.6 418.2,79.6 417.7,79.1 416.1,79.1 415.6,78.6 414.6,78.6 414,78.1 413,78 412.5,77.6 410.9,77.5 410.4,77 409.4,77 408.8,76.5 407.8,76.5 407.3,76 406.2,76 405.7,75.5 404.1,75.4 403.6,74.9 402.6,74.9 402.1,74.4 401,74.4 400.5,73.9 399.5,73.9 398.9,73.4 397.4,73.4 396.9,72.8 395.8,72.8 395.3,72.3 394.2,72.3 393.7,71.8 392.2,71.8 391.6,71.3 390.6,71.3 390.1,70.8 389,70.7 388.5,70.2 386.9,70.2 386.4,69.7 385.4,69.7 384.9,69.2 383.3,69.2 382.8,68.7 381.7,68.7 381.2,68.1 380.2,68.1 379.7,67.6 378.1,67.6 377.6,67.1 377,67.1 376.5,66.6 376,66.6 375.5,66.1 375,66.1 374.4,65.6 373.9,65.6 373.4,65 372.9,65 372.4,64.5 371.8,64.5 371.3,64 370.8,64 370.3,63.5 369.8,63.5 369.2,63 368.7,63 367.7,62 367.1,62 365.6,60.4 365.1,60.4 364,59.4 363.5,59.4 361.9,57.9 361.4,57.9 360.9,57.4Z" fill="#8aea80"/>
<path fill-rule="evenodd" d="M350.5,62.8 349.9,62.8 349.4,63.3 348.9,63.3 347.9,64.3 347.3,64.3 346.8,64.8 345.8,64.8 345.3,65.4 344.7,65.4 344.2,65.9 343.7,65.9 342.7,66.9 342.1,66.9 341.6,67.4 340.6,67.4 340,68 339.5,68 339,68.5 338.5,68.5 337.4,69.5 336.9,69.5 336.4,70 335.4,70.1 334.8,70.6 334.3,70.6 333.8,71.1 333.3,71.1 332.2,72.1 331.7,72.1 331.2,72.6 309.3,72.7 309.3,145.4 524.7,145.4 525.1,142.3 526,139.7 527.5,137.1 530.1,134 530.4,132.9 530.3,132.4 529.2,130.9 527.1,129.3 524,127.8 503.7,119.3 496.9,117.1 462,104.9 447.9,101 421.3,92.5 398.9,86 386.9,82.9 376,80.3 367.7,78.6 360.9,77.5 358.3,76.1 356.2,74.8 354.4,73.2 352.6,71.2 351.7,69.6 351.1,68 350.7,65.4 350.8,62.8 350.5,62.8Z" fill="#a2ec78"/>
<path fill-rule="evenodd" d="M311.4,83.6 309.3,83.1 309.3,145.4 510.8,145.4 511.1,141.8 511.8,137.6 511.8,136.1 511.5,135 510.9,134 509.9,132.9 508.4,131.9 503.7,129.9 496.9,128 462,116.7 447.9,113.2 434.4,109.3 418.2,104.2 402.6,99.8 383.3,95.2 360.9,90.9 348.9,87 343.2,86.3 337.4,85.9 330.1,85.9 326,85.5 311.4,83.6Z" fill="#c0f078"/>
<path fill-rule="evenodd" d="M311.4,95 309.3,94.5 309.3,145.4 496.9,145.4 496.8,143.8 496.4,142.3 495.3,140.2 493.3,138.4 490.6,137.1 462,128.5 448.4,125.5 434.4,121.8 421.3,117.6 406.2,113.2 396.3,110.7 386.9,108.5 360.9,103.4 348.9,100.7 326,98 311.4,95Z" fill="#e0f478"/>
<path fill-rule="evenodd" d="M310.9,106.3 309.3,105.9 309.3,145.4 478.7,145.4 475,143.9 462,140.3 448.4,137.6 434.4,134.3 424.5,131 412,127.2 401.5,124.3 391.6,121.9 353.6,113.9 326,109.9 310.9,106.3Z" fill="#f8f478"/>
<path fill-rule="evenodd" d="M310.9,117.8 309.3,117.4 309.3,145.4 430.6,145.4 419.8,141.9 408.3,138.5 398.4,135.8 388.5,133.3 354.1,126.1 339,123.9 326,121.6 310.9,117.8Z" fill="#f8e078"/>
<path fill-rule="evenodd" d="M310.9,129.2 309.3,128.8 309.3,145.4 388.1,145.4 354.1,138 339,135.7 326,133.3 310.9,129.2Z" fill="#f8c878"/>
<path fill-rule="evenodd" d="M310.9,140.6 309.3,140.2 309.3,145.4 328.5,145.4 325.5,144.8 310.9,140.6Z" fill="#f8aa76"/>
<path d="M538.6,19 528.7,18.9 519.3,18.5 509.9,17.8 500.6,16.8 490.7,15.4 481.3,13.7 476.1,12.6 468.1,10.4M538.6,30.8 527.1,30.4 515.7,29.5 503.7,27.9 491.2,25.6 476.1,22.2 465.6,19 455.2,15.4 437.4,10.4M538.6,42.5 528.7,42.1 517.8,41 506.3,39.1 493.8,36.4 476.1,31.8 455.2,24.7 447.9,22.6 431.8,18 413.5,13.5 403.4,10.4M538.6,54.2 529.7,53.9 520.4,52.7 509.9,50.8 498.5,48 476.1,41.4 455.2,34.1 431.8,27.2 413.5,22.5 377.6,11.6 375,10.4M538.6,66 531.3,65.6 523.5,64.7 515.1,63.1 506.3,60.8 494.8,57.3 476.1,51 462,45.8 455.2,43.4 431.8,36.3 413.5,31.6 377.6,20.7 371.8,17.8 368.2,15.5 362.4,10.4M538.6,77.7 532.3,77.4 525.6,76.6 518.3,75.1 510.5,73 496.4,68.2 476.1,60.6 462,55.1 455.2,52.8 431.8,45.5 413.5,40.6 377.6,29.7 371.8,26.8 368.2,24.5 360.9,18.1 345.4,10.4M538.6,89.4 532.9,89.2 526.6,88.3 520.4,87 513.6,85 501.6,80.7 468.8,67.1 462,64.5 455.2,62.1 431.8,54.7 413.5,49.6 377.6,38.7 371.8,35.9 368.2,33.5 360.9,27.1 327.3,10.4M538.6,101.2 533.4,100.9 528.2,100.2 522.4,98.9 516.2,97.1 510.5,95 503.7,92.3 471.9,77.9 461.5,73.6 431.8,63.9 413.5,58.7 377.6,47.8 371.8,44.9 368.2,42.6 360.9,36.2 309.3,10.5M538.6,112.9 533.9,112.7 528.7,111.9 523.5,110.7 517.8,108.9 512,106.7 505.8,104 479.7,91.1 469.8,86.4 462,83.1 431.8,73 413.5,67.7 377,56.6 371.8,53.9 368.2,51.6 360.9,45.2 309.3,19.5M524.7,145.4 525.1,142.3 526,139.7 527.5,137.1 529.8,134.5 530.4,132.9 530.1,131.9 529.2,130.9 527.9,129.8 525.1,128.3 503.7,119.3 496.9,117.1 462,104.9 447.9,101 421.3,92.5 398.9,86 386.9,82.9 376,80.3 367.7,78.6 360.9,77.5 358.3,76.1 356.2,74.8 354.4,73.2 352.6,71.2 351.7,69.6 351,67.5 350.7,65.4 350.8,62.8 349.9,62.8 349.4,63.3 348.9,63.3 347.9,64.3 347.3,64.3 346.8,64.8 345.8,64.8 345.3,65.4 344.7,65.4 344.2,65.9 343.7,65.9 342.7,66.9 342.1,66.9 341.6,67.4 340.6,67.4 340,68 339.5,68 339,68.5 338.5,68.5 337.4,69.5 336.9,69.5 336.4,70 335.4,70.1 334.8,70.6 334.3,70.6 333.8,71.1 333.3,71.1 332.2,72.1 331.7,72.1 331.2,72.6 309.3,72.7M510.8,145.4 511.1,141.8 511.8,137.6 511.8,136.1 511.5,135 510.9,134 509.9,132.9 508.4,131.9 503.7,129.9 496.9,128 462,116.7 447.9,113.2 434.4,109.3 418.2,104.2 402.6,99.8 383.3,95.2 360.9,90.9 348.9,87 340.6,86.1 334.8,85.8 330.1,85.9 326,85.5 311.4,83.6 309.3,83.1M496.9,145.4 496.8,143.8 496.4,142.3 495.3,140.2 493.3,138.4 490.6,137.1 462,128.5 448.4,125.5 434.4,121.8 421.3,117.6 406.2,113.2 396.3,110.7 386.9,108.5 360.9,103.4 348.9,100.7 326,98 309.3,94.5M478.7,145.4 475,143.9 462,140.3 448.4,137.6 434.4,134.3 424.5,131 412,127.2 401.5,124.3 391.6,121.9 353.6,113.9 326,109.9 309.3,105.9M430.6,145.4 419.8,141.9 408.3,138.5 398.4,135.8 388.5,133.3 354.1,126.1 339,123.9 326,121.6 309.3,117.4M388.1,145.4 354.1,138 339,135.7 326,133.3 309.3,128.8M328.5,145.4 325.5,144.8 309.3,140.2" fill="none" stroke="#3a5a48" stroke-opacity="0.45" stroke-width="0.5"/>
</g><path d="M309.3,72.7V10.4" stroke="#c8c8c8" stroke-width="0.8" fill="none"/>
<path d="M309.3,145.4h8M309.3,135h8M309.3,124.6h8M309.3,114.2h8M309.3,103.9h8M309.3,93.5h8M309.3,83.1h8M309.3,72.7h8M309.3,62.3h8M309.3,51.9h8M309.3,41.6h8M309.3,31.2h8M309.3,20.8h8M309.3,10.4h8" stroke="#bbb" stroke-opacity="0.55" stroke-width="0.6" fill="none"/>
<path d="M309.3,72.7V145.4H538.6V10.4" stroke="#222" stroke-width="1.3" fill="none"/>
<path d="M309.3,72.7L330.1,72.7L455.2,10.4L538.6,10.4" stroke="#1a8a1a" stroke-width="1.8" fill="none" stroke-linejoin="round"/>
<path d="M314.7,140.3L318.7,140.7M314.7,129.9L318.7,130.3M314.7,119.5L318.7,120M320.8,106.6L318.7,109.6M321.1,96.5L318.7,99.2M321.4,86.4L318.7,88.8M321.8,76.5L318.7,78.4M325.2,140.3L329.1,140.7M325.2,129.9L329.1,130.3M325.2,119.5L329.1,120M330.9,106.4L329.1,109.6M331.1,96.2L329.1,99.2M331.5,86.1L329.1,88.8M331.9,76.1L329.1,78.4M335.6,140.3L339.5,140.7M335.6,129.9L339.5,130.3M335.6,119.5L339.5,120M340.8,106.2L339.5,109.6M341,95.9L339.5,99.2M341.4,85.7L339.5,88.8M341.8,75.6L339.5,78.4M346,140.3L349.9,140.7M346,129.9L349.9,130.3M346,119.5L349.9,120M350.6,106L349.9,109.6M350.8,95.6L349.9,99.2M351,85.3L349.9,88.8M351.3,75.1L349.9,78.4M352,65L349.9,68M356.4,140.3L360.4,140.7M356.4,129.9L360.4,130.3M356.4,119.5L360.4,120M360.4,105.9L360.4,109.6M360.4,95.6L360.4,99.2M360.4,85.2L360.4,88.8M360.4,74.8L360.4,78.4M360.5,64.4L360.4,68M366.9,140.3L370.8,140.7M366.9,129.9L370.8,130.3M366.9,119.5L370.8,120M370.2,106L370.8,109.6M370,95.6L370.8,99.2M369.8,85.3L370.8,88.8M369.5,75L370.8,78.4M368.9,64.9L370.8,68M369.4,56.9L370.8,57.7M377.3,140.3L381.2,140.7M377.3,129.9L381.2,130.3M377.3,119.5L381.2,120M380,106.1L381.2,109.6M379.8,95.8L381.2,99.2M379.5,85.6L381.2,88.8M379,75.5L381.2,78.4M380,67.1L381.2,68M379.7,57.2L381.2,57.7M387.7,140.3L391.6,140.7M387.7,129.9L391.6,130.3M387.7,119.5L391.6,120M389.9,106.4L391.6,109.6M389.7,96.1L391.6,99.2M389.3,86L391.6,88.8M388.9,76.1L391.6,78.4M390.3,67.3L391.6,68M398.1,140.3L402.1,140.7M398.1,129.9L402.1,130.3M398.1,119.5L402.1,120M398.1,109.1L402.1,109.6M398.1,98.7L402.1,99.2M398.1,88.3L402.1,88.8M398.1,77.9L402.1,78.4M400.5,67.8L402.1,68M408.6,140.3L412.5,140.7M408.6,129.9L412.5,130.3M408.6,119.5L412.5,120M408.6,109.1L412.5,109.6M408.6,98.7L412.5,99.2M408.6,88.3L412.5,88.8M408.6,77.9L412.5,78.4M410.9,67.8L412.5,68M419,140.3L422.9,140.7M419,129.9L422.9,130.3M419,119.5L422.9,120M419,109.1L422.9,109.6M419,98.7L422.9,99.2M419,88.3L422.9,88.8M421.4,78.2L422.9,78.4M429.4,140.3L433.3,140.7M429.4,129.9L433.3,130.3M429.4,119.5L433.3,120M429.4,109.1L433.3,109.6M429.4,98.7L433.3,99.2M429.4,88.3L433.3,88.8M431.8,78.2L433.3,78.4M439.8,140.3L443.8,140.7M439.8,129.9L443.8,130.3M439.8,119.5L443.8,120M439.8,109.1L443.8,109.6M439.8,98.7L443.8,99.2M439.8,88.3L443.8,88.8M442.2,78.2L443.8,78.4M450.2,140.3L454.2,140.7M450.2,129.9L454.2,130.3M450.2,119.5L454.2,120M450.2,109.1L454.2,109.6M450.2,98.7L454.2,99.2M452.6,88.6L454.2,88.8M452.6,78.2L454.2,78.4M460.7,140.3L464.6,140.7M460.7,129.9L464.6,130.3M460.7,119.5L464.6,120M460.7,109.1L464.6,109.6M460.7,98.7L464.6,99.2M463,88.6L464.6,88.8M471.1,140.3L475,140.7M471.1,129.9L475,130.3M471.1,119.5L475,120M471.1,109.1L475,109.6M471.1,98.7L475,99.2M473.5,88.6L475,88.8M481.5,140.3L485.4,140.7M481.5,129.9L485.4,130.3M481.5,119.5L485.4,120M481.5,109.1L485.4,109.6M483.9,99L485.4,99.2M491.9,140.3L495.9,140.7M491.9,129.9L495.9,130.3M491.9,119.5L495.9,120M491.9,109.1L495.9,109.6M494.3,99L495.9,99.2M502.4,140.2L506.3,140.7M502.4,129.7L506.3,130.3M502.4,119.2L506.3,120M504.8,109.2L506.3,109.6M504.8,98.8L506.3,99.2M511.6,139.7L516.7,140.7M511.8,128.5L516.7,130.3M512,117.7L516.7,120M515.4,108.8L516.7,109.6M522.4,138.6L527.1,140.7M523.3,126.8L527.1,130.3M524,115.8L527.1,120M526.3,108.2L527.1,109.6M535.1,136.1L537.6,140.7M536.4,125.3L537.6,130.3M537.3,118.4L537.6,120" stroke="#555" stroke-opacity="0.45" stroke-width="0.45" fill="none"/>
<g fill="#222" fill-opacity="0.75"><circle cx="318.7" cy="140.7" r="0.45"/><circle cx="318.7" cy="130.3" r="0.45"/><circle cx="318.7" cy="120" r="0.45"/><circle cx="318.7" cy="109.6" r="0.45"/><circle cx="318.7" cy="99.2" r="0.45"/><circle cx="318.7" cy="88.8" r="0.45"/><circle cx="318.7" cy="78.4" r="0.45"/><circle cx="329.1" cy="140.7" r="0.45"/><circle cx="329.1" cy="130.3" r="0.45"/><circle cx="329.1" cy="120" r="0.45"/><circle cx="329.1" cy="109.6" r="0.45"/><circle cx="329.1" cy="99.2" r="0.45"/><circle cx="329.1" cy="88.8" r="0.45"/><circle cx="329.1" cy="78.4" r="0.45"/><circle cx="339.5" cy="140.7" r="0.45"/><circle cx="339.5" cy="130.3" r="0.45"/><circle cx="339.5" cy="120" r="0.45"/><circle cx="339.5" cy="109.6" r="0.45"/><circle cx="339.5" cy="99.2" r="0.45"/><circle cx="339.5" cy="88.8" r="0.45"/><circle cx="339.5" cy="78.4" r="0.45"/><circle cx="349.9" cy="140.7" r="0.45"/><circle cx="349.9" cy="130.3" r="0.45"/><circle cx="349.9" cy="120" r="0.45"/><circle cx="349.9" cy="109.6" r="0.45"/><circle cx="349.9" cy="99.2" r="0.45"/><circle cx="349.9" cy="88.8" r="0.45"/><circle cx="349.9" cy="78.4" r="0.45"/><circle cx="349.9" cy="68" r="0.45"/><circle cx="360.4" cy="140.7" r="0.45"/><circle cx="360.4" cy="130.3" r="0.45"/><circle cx="360.4" cy="120" r="0.45"/><circle cx="360.4" cy="109.6" r="0.45"/><circle cx="360.4" cy="99.2" r="0.45"/><circle cx="360.4" cy="88.8" r="0.45"/><circle cx="360.4" cy="78.4" r="0.45"/><circle cx="360.4" cy="68" r="0.45"/><circle cx="370.8" cy="140.7" r="0.45"/><circle cx="370.8" cy="130.3" r="0.45"/><circle cx="370.8" cy="120" r="0.45"/><circle cx="370.8" cy="109.6" r="0.45"/><circle cx="370.8" cy="99.2" r="0.45"/><circle cx="370.8" cy="88.8" r="0.45"/><circle cx="370.8" cy="78.4" r="0.45"/><circle cx="370.8" cy="68" r="0.45"/><circle cx="370.8" cy="57.7" r="0.4"/><circle cx="381.2" cy="140.7" r="0.45"/><circle cx="381.2" cy="130.3" r="0.45"/><circle cx="381.2" cy="120" r="0.45"/><circle cx="381.2" cy="109.6" r="0.45"/><circle cx="381.2" cy="99.2" r="0.45"/><circle cx="381.2" cy="88.8" r="0.45"/><circle cx="381.2" cy="78.4" r="0.45"/><circle cx="381.2" cy="68" r="0.4"/><circle cx="381.2" cy="57.7" r="0.4"/><circle cx="391.6" cy="140.7" r="0.45"/><circle cx="391.6" cy="130.3" r="0.45"/><circle cx="391.6" cy="120" r="0.45"/><circle cx="391.6" cy="109.6" r="0.45"/><circle cx="391.6" cy="99.2" r="0.45"/><circle cx="391.6" cy="88.8" r="0.45"/><circle cx="391.6" cy="78.4" r="0.45"/><circle cx="391.6" cy="68" r="0.4"/><circle cx="402.1" cy="140.7" r="0.55"/><circle cx="402.1" cy="130.3" r="0.55"/><circle cx="402.1" cy="120" r="0.55"/><circle cx="402.1" cy="109.6" r="0.55"/><circle cx="402.1" cy="99.2" r="0.55"/><circle cx="402.1" cy="88.8" r="0.55"/><circle cx="402.1" cy="78.4" r="0.55"/><circle cx="402.1" cy="68" r="0.4"/><circle cx="412.5" cy="140.7" r="0.55"/><circle cx="412.5" cy="130.3" r="0.55"/><circle cx="412.5" cy="120" r="0.55"/><circle cx="412.5" cy="109.6" r="0.55"/><circle cx="412.5" cy="99.2" r="0.55"/><circle cx="412.5" cy="88.8" r="0.55"/><circle cx="412.5" cy="78.4" r="0.55"/><circle cx="412.5" cy="68" r="0.4"/><circle cx="422.9" cy="140.7" r="0.55"/><circle cx="422.9" cy="130.3" r="0.55"/><circle cx="422.9" cy="120" r="0.55"/><circle cx="422.9" cy="109.6" r="0.55"/><circle cx="422.9" cy="99.2" r="0.55"/><circle cx="422.9" cy="88.8" r="0.55"/><circle cx="422.9" cy="78.4" r="0.4"/><circle cx="433.3" cy="140.7" r="0.55"/><circle cx="433.3" cy="130.3" r="0.55"/><circle cx="433.3" cy="120" r="0.55"/><circle cx="433.3" cy="109.6" r="0.55"/><circle cx="433.3" cy="99.2" r="0.55"/><circle cx="433.3" cy="88.8" r="0.55"/><circle cx="433.3" cy="78.4" r="0.4"/><circle cx="443.8" cy="140.7" r="0.55"/><circle cx="443.8" cy="130.3" r="0.55"/><circle cx="443.8" cy="120" r="0.55"/><circle cx="443.8" cy="109.6" r="0.55"/><circle cx="443.8" cy="99.2" r="0.55"/><circle cx="443.8" cy="88.8" r="0.55"/><circle cx="443.8" cy="78.4" r="0.4"/><circle cx="454.2" cy="140.7" r="0.55"/><circle cx="454.2" cy="130.3" r="0.55"/><circle cx="454.2" cy="120" r="0.55"/><circle cx="454.2" cy="109.6" r="0.55"/><circle cx="454.2" cy="99.2" r="0.55"/><circle cx="454.2" cy="88.8" r="0.4"/><circle cx="454.2" cy="78.4" r="0.4"/><circle cx="464.6" cy="140.7" r="0.55"/><circle cx="464.6" cy="130.3" r="0.55"/><circle cx="464.6" cy="120" r="0.55"/><circle cx="464.6" cy="109.6" r="0.55"/><circle cx="464.6" cy="99.2" r="0.55"/><circle cx="464.6" cy="88.8" r="0.4"/><circle cx="475" cy="140.7" r="0.55"/><circle cx="475" cy="130.3" r="0.55"/><circle cx="475" cy="120" r="0.55"/><circle cx="475" cy="109.6" r="0.55"/><circle cx="475" cy="99.2" r="0.55"/><circle cx="475" cy="88.8" r="0.4"/><circle cx="485.4" cy="140.7" r="0.55"/><circle cx="485.4" cy="130.3" r="0.55"/><circle cx="485.4" cy="120" r="0.55"/><circle cx="485.4" cy="109.6" r="0.55"/><circle cx="485.4" cy="99.2" r="0.4"/><circle cx="495.9" cy="140.7" r="0.55"/><circle cx="495.9" cy="130.3" r="0.55"/><circle cx="495.9" cy="120" r="0.55"/><circle cx="495.9" cy="109.6" r="0.55"/><circle cx="495.9" cy="99.2" r="0.4"/><circle cx="506.3" cy="140.7" r="0.55"/><circle cx="506.3" cy="130.3" r="0.55"/><circle cx="506.3" cy="120" r="0.55"/><circle cx="506.3" cy="109.6" r="0.4"/><circle cx="506.3" cy="99.2" r="0.4"/><path transform="translate(516.7,140.7) rotate(12)" d="M0.8,0L-2.4,-1.1L-2.4,1.1Z"/><path transform="translate(516.7,130.3) rotate(20)" d="M0.8,0L-2.4,-1.1L-2.4,1.1Z"/><path transform="translate(516.7,120) rotate(26)" d="M0.8,0L-2.4,-1.1L-2.4,1.1Z"/><circle cx="516.7" cy="109.6" r="0.4"/><path transform="translate(527.1,140.7) rotate(24)" d="M0.8,0L-2.4,-1.1L-2.4,1.1Z"/><path transform="translate(527.1,130.3) rotate(43)" d="M0.8,0L-2.4,-1.1L-2.4,1.1Z"/><path transform="translate(527.1,120) rotate(53)" d="M0.8,0L-2.4,-1.1L-2.4,1.1Z"/><circle cx="527.1" cy="109.6" r="0.4"/><path transform="translate(537.6,140.7) rotate(62)" d="M0.8,0L-2.4,-1.1L-2.4,1.1Z"/><path transform="translate(537.6,130.3) rotate(77)" d="M0.8,0L-2.4,-1.1L-2.4,1.1Z"/><path transform="translate(537.6,120) rotate(82)" d="M0.8,0L-2.4,-1.1L-2.4,1.1Z"/></g>
<g transform="translate(340.1,78.3) rotate(108)"><path d="M-8.0,0L0,0" stroke="#444" stroke-opacity="0.5" stroke-width="0.5"/><path d="M0,0L-5.0,-1.1L-5.0,1.1Z" fill="#111"/></g>
<g transform="translate(357.5,75.6) rotate(62)"><path d="M-8.0,0L0,0" stroke="#444" stroke-opacity="0.5" stroke-width="0.5"/><path d="M0,0L-5.0,-1.1L-5.0,1.1Z" fill="#111"/></g>
<g transform="translate(372.1,63.7) rotate(30)"><path d="M-5.6,0L0,0" stroke="#444" stroke-opacity="0.5" stroke-width="0.5"/><path d="M0,0L-3.5,-1.1L-3.5,1.1Z" fill="#111"/></g>
<g transform="translate(433.5,85.7) rotate(10)"><rect x="-7.0" y="-4.7" width="14" height="9.4" fill="#fff"/><text x="0" y="2.9" font-family="Liberation Sans" font-size="8" text-anchor="middle" fill="#3a3a3a">0</text></g>
<g transform="translate(419,92.8) rotate(10)"><rect x="-9.0" y="-4.7" width="18" height="9.4" fill="#fff"/><text x="0" y="2.9" font-family="Liberation Sans" font-size="8" text-anchor="middle" fill="#3a3a3a">10</text></g>
<g transform="translate(401.2,99.7) rotate(10)"><rect x="-9.0" y="-4.7" width="18" height="9.4" fill="#fff"/><text x="0" y="2.9" font-family="Liberation Sans" font-size="8" text-anchor="middle" fill="#3a3a3a">20</text></g>
<g transform="translate(384.7,107.1) rotate(10)"><rect x="-9.0" y="-4.7" width="18" height="9.4" fill="#fff"/><text x="0" y="2.9" font-family="Liberation Sans" font-size="8" text-anchor="middle" fill="#3a3a3a">30</text></g>
<g transform="translate(370.4,115.2) rotate(10)"><rect x="-9.0" y="-4.7" width="18" height="9.4" fill="#fff"/><text x="0" y="2.9" font-family="Liberation Sans" font-size="8" text-anchor="middle" fill="#3a3a3a">40</text></g>
<g transform="translate(353.9,123.9) rotate(10)"><rect x="-9.0" y="-4.7" width="18" height="9.4" fill="#fff"/><text x="0" y="2.9" font-family="Liberation Sans" font-size="8" text-anchor="middle" fill="#3a3a3a">50</text></g>
<g transform="translate(338.9,134) rotate(10)"><rect x="-9.0" y="-4.7" width="18" height="9.4" fill="#fff"/><text x="0" y="2.9" font-family="Liberation Sans" font-size="8" text-anchor="middle" fill="#3a3a3a">60</text></g>
<g transform="translate(325.9,143.7) rotate(10)"><rect x="-9.0" y="-4.7" width="18" height="9.4" fill="#fff"/><text x="0" y="2.9" font-family="Liberation Sans" font-size="8" text-anchor="middle" fill="#3a3a3a">70</text></g>
<path d="M360.9,57.3 368.2,62.7 377.3,67.3 395.5,72.7 413.6,78.2 431.8,83.6 448.2,89.1 461.8,93.1 482.6,100.9 503.5,108.7 524.4,118.4 536.1,124.4 538.3,130 538.6,145.4" stroke="#1818ee" stroke-width="1.9" fill="none" stroke-dasharray="3.2 1.9"/>
<path d="M321.8,45.3L330.9,45.3L326.3,51.1Z" fill="#fff" stroke="#555" stroke-width="0.7"/>
<path d="M323.1,52.0h6.4M324.1,53.300000000000004h4.4" stroke="#8aa" stroke-width="0.9"/>
<path d="M332.9,28L325.7,43.3" stroke="#222" stroke-width="0.8"/><circle cx="332.9" cy="28" r="0.7" fill="#222"/>
<text x="319.8" y="24.1" font-family="Liberation Serif" font-size="9" fill="#222">Water level 2m</text>
<g transform="translate(341.3,45.0) rotate(51.4)"><path d="M0,-2.4L13.1,-2.4L13.1,-5.0L18.9,0L13.1,5.0L13.1,2.4L0,2.4Z" fill="#5b95d3" stroke="#4a7fb8" stroke-width="0.5"/></g>
<g font-family="Liberation Sans" font-size="8.4" fill="#2a2a2a" stroke="#2a2a2a" stroke-width="0.08"><text x="305.1" y="148.2" text-anchor="end">0</text><text x="305.1" y="137.8" text-anchor="end">1</text><text x="305.1" y="127.4" text-anchor="end">2</text><text x="305.1" y="117" text-anchor="end">3</text><text x="305.1" y="106.7" text-anchor="end">4</text><text x="305.1" y="96.3" text-anchor="end">5</text><text x="305.1" y="85.9" text-anchor="end">6</text><text x="305.1" y="75.5" text-anchor="end">7</text><text x="305.1" y="65.1" text-anchor="end">8</text><text x="305.1" y="54.7" text-anchor="end">9</text><text x="305.1" y="44.4" text-anchor="end">10</text><text x="305.1" y="34" text-anchor="end">11</text><text x="305.1" y="23.6" text-anchor="end">12</text><text x="305.1" y="13.2" text-anchor="end">13</text><text x="309.3" y="157.8" text-anchor="middle">0</text><text x="330.1" y="157.8" text-anchor="middle">2</text><text x="351" y="157.8" text-anchor="middle">4</text><text x="371.8" y="157.8" text-anchor="middle">6</text><text x="392.7" y="157.8" text-anchor="middle">8</text><text x="413.5" y="157.8" text-anchor="middle">10</text><text x="434.4" y="157.8" text-anchor="middle">12</text><text x="455.2" y="157.8" text-anchor="middle">14</text><text x="476.1" y="157.8" text-anchor="middle">16</text><text x="496.9" y="157.8" text-anchor="middle">18</text><text x="517.8" y="157.8" text-anchor="middle">20</text><text x="538.6" y="157.8" text-anchor="middle">22</text></g>
<text transform="translate(291.4,79.6) rotate(-90)" text-anchor="middle" font-family="Liberation Serif" font-size="10.5" fill="#1a1a1a" stroke="#1a1a1a" stroke-width="0.25">Heights(m)</text>
<text x="431.0" y="170.0" text-anchor="middle" font-family="Liberation Serif" font-size="10.4" fill="#1a1a1a" stroke="#1a1a1a" stroke-width="0.2">Distance from the bottom of the canal(m)</text>
<text x="413.0" y="186.8" text-anchor="middle" font-family="Liberation Serif" font-size="12.4" letter-spacing="0.45" fill="#111" stroke="#111" stroke-width="0.15">(<tspan font-weight="bold">b</tspan>) Water level 2 m</text><path d="M31.2,261.2 L31.2,229.8 L115.1,229.8 L52.2,261.2Z" fill="#c8ecfa"/><clipPath id="domc"><path d="M31.2,334.3 261.8,334.3 261.8,198.5 177.9,198.5 52.2,261.2 31.2,261.2Z"/></clipPath>
<g clip-path="url(#domc)">
<path d="M31.2,334.3 261.8,334.3 261.8,198.5 177.9,198.5 52.2,261.2 31.2,261.2Z" fill="#80aaf2"/>
<path d="M31.2,334.3 261.8,334.3 261.8,198.5 177.9,198.5 52.2,261.2 31.2,261.2Z" fill="#80acf4"/>
<path fill-rule="evenodd" d="M244.5,198.5 31.2,198.5 31.2,334.3 261.8,334.3 261.8,200.6 253.9,200.1 244.5,198.5Z" fill="#80aef4"/>
<path fill-rule="evenodd" d="M213.1,198.5 31.2,198.5 31.2,334.3 261.8,334.3 261.8,212.4 257.1,212.2 252.4,211.6 247.1,210.6 241.9,209.2 230.9,205.6 213.1,198.5Z" fill="#7ebcf6"/>
<path fill-rule="evenodd" d="M182.7,198.5 31.2,198.5 31.2,334.3 261.8,334.3 261.8,224.2 257.1,224 251.8,223.3 246.6,222.1 240.8,220.4 229.8,216.3 209.4,207.3 201,203.9 192.6,201 182.7,198.5Z" fill="#7ed4f8"/>
<path fill-rule="evenodd" d="M148.6,198.5 31.2,198.5 31.2,334.3 261.8,334.3 261.8,236 257.6,235.8 252.9,235.2 248.2,234.1 242.9,232.6 237.7,230.7 231.9,228.3 207.3,216.6 196.3,212.1 191.6,210.5 183.2,208.3 177.9,206.6 165.9,203.5 148.6,198.5Z" fill="#7eeafa"/>
<path fill-rule="evenodd" d="M116.6,198.5 31.2,198.5 31.2,334.3 261.8,334.3 261.8,247.8 257.1,247.5 251.8,246.7 246.1,245.2 240.3,243.1 235.1,240.9 229.3,238.2 204.7,225.6 198.4,222.8 192.6,220.6 177.9,216.2 165.4,212.7 145.5,206.5 136,204.5 117.1,198.5 116.6,198.5Z" fill="#7ef8f0"/>
<path fill-rule="evenodd" d="M94.6,198.5 31.2,198.5 31.2,334.3 261.8,334.3 261.8,259.6 257.1,259.3 251.8,258.4 246.1,256.8 240.3,254.6 229.8,249.5 204.7,235.7 198.4,232.7 193.1,230.6 177.9,225.8 165.9,222.3 145.5,215.6 136,213.3 104.6,203.4 102,202.3 94.6,198.5Z" fill="#7efae0"/>
<path fill-rule="evenodd" d="M77.3,198.5 31.2,198.5 31.2,334.3 261.8,334.3 261.8,271.4 257.1,271.1 251.8,270.1 246.1,268.4 240.3,266 235.6,263.7 229.8,260.6 205,246 198.9,242.9 193.1,240.4 189,238.9 165.9,231.7 145.5,224.6 136,222.2 104.6,212.3 101.4,211 88.9,204.2 77.3,198.5Z" fill="#7ef8cc"/>
<path fill-rule="evenodd" d="M59.5,198.5 31.2,198.5 31.2,334.3 261.8,334.3 261.8,283.2 257.1,282.9 251.8,281.8 246.1,280 240.3,277.5 235.6,275 229.8,271.7 205.2,256.3 198.9,252.9 193.1,250.2 189,248.6 165.9,241.1 145.5,233.6 136,231.1 104.6,221.1 101.4,219.8 88.3,212.8 59.5,198.5Z" fill="#82f6b8"/>
<path fill-rule="evenodd" d="M41.7,198.5 31.2,198.5 31.2,334.3 261.8,334.3 261.8,295 257.1,294.7 251.8,293.6 246.1,291.6 240.3,288.9 235.6,286.3 229.8,282.8 205.2,266.5 198.9,262.8 193.1,260 189,258.3 165.9,250.5 145.5,242.7 136,240 123.4,236 104.6,230 102,229 88.3,221.7 41.7,198.5Z" fill="#88f2a6"/>
<path fill-rule="evenodd" d="M31.2,202.1 31.2,334.3 261.8,334.3 261.8,306.8 257.1,306.5 252.4,305.4 251.3,304.6 250.8,304.5 250.3,304 249.7,304 249.2,303.5 248.7,303.5 248.2,303 247.6,303 247.1,302.5 246.6,302.5 246.1,302 245.6,302 245,301.4 244.5,301.4 244,300.9 243.5,300.9 242.9,300.4 242.4,300.4 241.9,299.9 241.4,299.9 240.8,299.4 240.3,299.3 239.8,298.8 239.3,298.8 238.7,298.3 238.2,298.3 237.7,297.8 237.2,297.8 236.6,297.3 236.1,297.2 235.6,296.7 234.5,296.7 234,296.2 233.5,296.2 233,295.7 232.5,295.6 205.7,277 198.9,272.8 192.6,269.6 188.4,267.9 165.9,259.9 145.5,251.7 123.4,244.9 104.6,238.9 102,237.9 88.3,230.6 31.2,202.1Z" fill="#90ee98"/>
<path fill-rule="evenodd" d="M88.9,242.6 87.8,243.6 86.8,243.5 86.2,244 85.7,244 85.2,244.5 84.7,244.5 84.1,245 83.6,245 82.6,246.1 81.5,246.1 81,246.6 80.5,246.6 79.9,247.1 79.4,247.1 78.9,247.6 78.4,247.6 77.3,248.7 76.3,248.7 75.7,249.2 75.2,249.2 74.7,249.7 74.2,249.7 73.7,250.2 73.1,250.2 72.6,250.7 72.1,250.7 71.6,251.3 71,251.3 70,252.3 69.5,252.3 68.9,252.8 67.9,252.8 67.4,253.4 66.8,253.4 66.3,253.9 65.8,253.9 64.7,254.9 64.2,254.9 63.7,255.5 62.6,255.5 62.1,256 61.6,256 61.1,256.5 60.5,256.5 59.5,257.5 59,257.5 58.5,258.1 57.4,258.1 56.9,258.6 56.4,258.6 55.8,259.1 55.3,259.1 54.3,260.2 53.7,260.2 53.2,260.7 31.2,260.7 31.2,334.3 261.8,334.3 261.5,333.8 261.8,324.9 261.5,318.1 261.1,317.6 260.9,316.5 260.4,316 260.3,315 259.8,314.5 259.8,313.4 251.3,305 250.8,305 250.3,304.5 249.7,304.5 249.2,304 248.7,304 248.2,303.5 247.6,303.5 247.1,302.9 246.6,302.9 246.1,302.4 245.6,302.4 245,301.9 244.5,301.9 244,301.4 243.5,301.4 242.9,300.8 242.4,300.8 241.9,300.3 241.4,300.3 240.8,299.8 240.3,299.8 239.8,299.3 239.3,299.3 238.7,298.8 238.2,298.8 237.7,298.2 237.2,298.2 236.6,297.7 236.1,297.7 235.6,297.2 234.5,297.2 234,296.7 233.5,296.7 233,296.1 232.5,296.1 231.9,295.6 231.4,295.6 230.9,295.1 229.8,295.1 229.3,294.6 228.8,294.6 228.3,294.1 227.7,294.1 227.2,293.5 226.2,293.5 225.6,293 225.1,293 224.6,292.5 224.1,292.5 223.5,292 222.5,292 222,291.4 221.4,291.4 220.9,290.9 220.4,290.9 219.9,290.4 219.3,290.4 218.8,289.9 217.8,289.9 217.3,289.3 216.7,289.3 216.2,288.8 215.7,288.8 215.2,288.3 214.1,288.3 213.6,287.8 213.1,287.8 212.5,287.2 211.5,287.2 211,286.7 210.4,286.7 209.9,286.2 208.9,286.2 208.3,285.7 207.8,285.7 207.3,285.1 206.2,285.1 205.7,284.6 205.2,284.6 204.7,284.1 203.6,284 203.1,283.5 202.6,283.5 202.1,283 201.5,283 201,282.5 200,282.4 199.4,281.9 198.9,281.9 198.4,281.4 197.3,281.3 195.8,280.3 194.7,280.2 193.1,279.2 192.1,279.2 191.6,278.7 191,278.7 190.5,278.2 189.5,278.1 189,277.6 187.9,277.6 187.4,277.1 186.9,277.1 186.3,276.6 185.3,276.6 184.8,276.1 183.7,276 183.2,275.5 182.1,275.5 181.6,275 180.6,275 180,274.5 179.5,274.5 179,274 177.9,273.9 177.4,273.5 176.4,273.4 175.8,272.9 174.8,272.9 174.3,272.4 173.2,272.3 172.7,271.9 172.2,271.8 171.7,271.4 170.6,271.3 170.1,270.8 169,270.8 168.5,270.3 167.5,270.2 166.9,269.8 165.9,269.7 165.4,269.2 164.8,269.2 164.3,268.7 163.3,268.7 162.7,268.2 162.2,268.1 161.7,267.7 160.7,267.6 160.1,267.1 159.6,267.1 159.1,266.6 158,266.6 157.5,266.1 156.5,266 155.9,265.5 155.4,265.5 154.9,265 153.8,265 153.3,264.5 152.8,264.5 152.3,264 151.2,263.9 150.7,263.4 150.2,263.4 149.6,262.9 148.6,262.9 148.1,262.4 147.5,262.4 147,261.9 146,261.9 145.5,261.4 144.4,261.3 143.9,260.8 142.8,260.8 142.3,260.3 140.7,260.3 140.2,259.8 139.2,259.8 138.6,259.3 137.1,259.2 136.5,258.7 135.5,258.7 135,258.2 133.9,258.2 133.4,257.7 131.8,257.7 131.3,257.2 130.3,257.1 129.7,256.6 128.7,256.6 128.2,256.1 126.6,256.1 126.1,255.6 125,255.6 124.5,255.1 123.4,255.1 122.9,254.6 121.3,254.5 120.8,254 119.8,254 119.2,253.5 118.2,253.5 117.7,253 116.1,253 115.6,252.5 114.5,252.4 114,251.9 113,251.9 112.4,251.4 111.4,251.4 110.9,250.9 109.3,250.9 108.8,250.4 107.7,250.3 107.2,249.8 106.1,249.8 105.6,249.3 104,249.3 103.5,248.8 102.5,248.8 102,248.3 101.4,248.3 100.9,247.7 99.9,247.7 99.3,247.2 98.8,247.2 98.3,246.7 97.8,246.7 97.2,246.2 96.7,246.2 96.2,245.7 95.1,245.7 94.6,245.2 94.1,245.2 93.6,244.7 93,244.7 92.5,244.2 92,244.2 91.5,243.7 90.4,243.7 89.9,243.2 89.4,243.2 88.9,242.6Z" fill="#8aea80"/>
<path fill-rule="evenodd" d="M81,247.1 80.5,247 79.9,247.5 79.4,247.5 78.9,248 78.4,248 77.3,249 76.3,249 75.7,249.5 75.2,249.5 74.7,250 74.2,250 73.7,250.6 73.1,250.6 72.6,251.1 72.1,251.1 71.6,251.6 71,251.6 70,252.7 69.5,252.7 68.9,253.2 67.9,253.2 67.4,253.7 66.8,253.7 66.3,254.2 65.8,254.3 64.7,255.3 64.2,255.3 63.7,255.8 62.6,255.8 62.1,256.4 61.6,256.4 61.1,256.9 60.5,256.9 59.5,257.9 59,257.9 58.5,258.4 57.4,258.5 56.9,259 56.4,259 55.8,259.5 55.3,259.5 54.3,260.5 53.7,260.6 53.2,261.1 31.2,261.1 31.2,334.3 247.8,334.3 248.3,330.6 249.7,327.3 251.8,324.6 254.7,322.3 255.6,321.2 255.7,320.7 255.6,319.7 254.8,318.1 253.2,316 251.3,314.4 236.1,307.5 215.2,299.3 189,289.3 165.9,281.5 151.2,276 143.4,273.5 133.4,270.9 115.1,266.8 104.6,264.3 96.2,262.9 88.3,262 86.2,260.5 84.7,259.1 83.3,257.5 82.3,256 81.5,253.9 81,251.8 80.9,249.7 81,247.1Z" fill="#a2ec78"/>
<path fill-rule="evenodd" d="M73.1,268.4 67.9,268.1 62.6,268.3 57.9,269 52.2,270.4 34.3,270.2 31.2,270 31.2,334.3 233.9,334.3 234.4,329.1 235.2,325.9 236.3,322.8 236.5,320.7 236.1,319.5 235.1,318.2 233.5,317.1 231.9,316.3 219.9,312.2 189.5,301.3 165.9,294.1 145.5,286.9 135,284.2 115.1,280.2 104.6,277.6 88.3,274.7 82,272.2 79.4,270.7 77.3,269.3 73.1,268.4Z" fill="#c0f078"/>
<path fill-rule="evenodd" d="M37.5,280.5 31.2,280.1 31.2,334.3 219.9,334.3 220.2,328.6 219.7,325.9 218.8,324.4 217.8,323.3 215.2,321.6 189,312.9 165.9,306.4 157,303.7 145.5,299.5 132.9,296.3 115.1,292.7 104.6,289.8 88.3,286.5 82.4,284.7 77.3,282.9 73.1,281.9 61.6,281 57.9,280.9 52.2,281.2 37.5,280.5Z" fill="#e0f478"/>
<path fill-rule="evenodd" d="M33.3,290.4 31.2,290.2 31.2,334.3 205.6,334.3 204.8,332.2 203.6,330.6 201.7,329.1 198.9,327.7 189,324.7 165.9,318.8 157,316.2 146,312.1 136,309.4 115.1,304.9 104.6,301.7 88.3,297.8 77.3,294.5 73.1,293.5 59,292 52.2,291.8 33.3,290.4Z" fill="#f8f478"/>
<path fill-rule="evenodd" d="M36.4,300.8 31.2,300.4 31.2,334.3 179.7,334.3 165.9,331.1 157,328.8 149.6,325.9 143.6,323.9 131.8,320.7 115.1,317 104.6,313.4 88.3,308.9 73.1,304.4 58.5,302.7 36.4,300.8Z" fill="#f8e078"/>
<path fill-rule="evenodd" d="M33.8,310.8 31.2,310.5 31.2,334.3 137,334.3 128.2,332 115.1,329 104.6,325.1 73.1,315.1 58.5,313.1 33.8,310.8Z" fill="#f8c878"/>
<path fill-rule="evenodd" d="M31.7,320.7 31.2,320.6 31.2,334.3 97.6,334.3 73.1,325.6 58.5,323.6 31.7,320.7Z" fill="#f8aa76"/>
<path fill-rule="evenodd" d="M34.3,331.1 31.2,330.7 31.2,334.3 60.9,334.3 34.3,331.1Z" fill="#f49678"/>
<path d="M261.8,200.6 253.9,200.1 244.9,198.5M261.8,212.4 257.1,212.2 252.4,211.6 247.1,210.6 241.9,209.2 230.9,205.6 213.2,198.5M261.8,224.2 257.1,224 251.8,223.3 246.6,222.1 240.8,220.4 229.8,216.3 209.4,207.3 201,203.9 192.6,201 182.8,198.5M261.8,236 257.6,235.8 252.9,235.2 248.2,234.1 242.9,232.6 237.7,230.7 231.9,228.3 207.3,216.6 196.3,212.1 191.6,210.5 183.2,208.3 177.9,206.6 165.9,203.5 149,198.5M261.8,247.8 257.1,247.5 251.8,246.7 246.1,245.2 240.3,243.1 235.1,240.9 229.3,238.2 204.7,225.6 198.4,222.8 192.6,220.6 177.9,216.2 165.4,212.7 145.5,206.5 136,204.5 117.1,198.5M261.8,259.6 257.1,259.3 251.8,258.4 246.1,256.8 240.3,254.6 229.8,249.5 204.7,235.7 198.4,232.7 193.1,230.6 177.9,225.8 165.9,222.3 145.5,215.6 136,213.3 104.6,203.4 101.4,202.1 94.8,198.5M261.8,271.4 257.1,271.1 251.8,270.1 246.1,268.4 240.3,266 235.6,263.7 229.8,260.6 205,246 198.9,242.9 193.1,240.4 189,238.9 165.9,231.7 145.5,224.6 136,222.2 104.6,212.3 101.4,211 88.9,204.2 77.4,198.5M261.8,283.2 257.1,282.9 251.8,281.8 246.1,280 240.3,277.5 235.6,275 229.8,271.7 205.2,256.3 198.9,252.9 193.1,250.2 189,248.6 165.9,241.1 145.5,233.6 136,231.1 104.6,221.1 101.4,219.8 88.9,213.1 59.6,198.5M261.8,295 257.1,294.7 251.8,293.6 246.1,291.6 240.3,288.9 235.6,286.3 229.8,282.8 205.2,266.5 198.9,262.8 193.1,260 189,258.3 165.9,250.5 145.5,242.7 136,240 123.4,236 104.6,230 102,229 88.3,221.7 41.8,198.5M261.8,306.8 257.1,306.5 252.4,305.4 251.3,304.6 250.8,304.5 250.3,304 249.7,304 249.2,303.5 248.7,303.5 248.2,303 247.6,303 247.1,302.5 246.6,302.5 246.1,302 245.6,302 245,301.4 244.5,301.4 244,300.9 243.5,300.9 242.9,300.4 242.4,300.4 241.9,299.9 241.4,299.9 240.8,299.4 240.3,299.3 239.8,298.8 239.3,298.8 238.7,298.3 238.2,298.3 237.7,297.8 237.2,297.8 236.6,297.3 236.1,297.2 235.6,296.7 234.5,296.7 234,296.2 233.5,296.2 233,295.7 232.5,295.6 205.7,277 198.9,272.8 192.6,269.6 188.4,267.9 165.9,259.9 145.5,251.7 123.4,244.9 104.6,238.9 102,237.9 88.3,230.6 31.2,202.1M247.8,334.3 248.3,330.6 249.6,327.5 251.8,324.6 255.3,321.8 255.7,320.7 255.4,319.2 254.5,317.6 252.7,315.5 251.3,314.4 236.1,307.5 215.2,299.3 189,289.3 165.9,281.5 152.8,276.6 146,274.2 134.4,271.1 115.1,266.8 104.6,264.3 96.2,262.9 88.3,262 86.2,260.5 84.7,259.1 83.3,257.5 82.3,256 81.5,253.9 81,251.8 80.9,249.7 81,247.1 80.5,247 79.9,247.5 79.4,247.5 78.9,248 78.4,248 77.3,249 76.3,249 75.7,249.5 75.2,249.5 74.7,250 74.2,250 73.7,250.6 73.1,250.6 72.6,251.1 72.1,251.1 71.6,251.6 71,251.6 70,252.7 69.5,252.7 68.9,253.2 67.9,253.2 67.4,253.7 66.8,253.7 66.3,254.2 65.8,254.3 64.7,255.3 64.2,255.3 63.7,255.8 62.6,255.8 62.1,256.4 61.6,256.4 61.1,256.9 60.5,256.9 59.5,257.9 59,257.9 58.5,258.4 57.4,258.5 56.9,259 56.4,259 55.8,259.5 55.3,259.5 54.3,260.5 53.7,260.6 53.2,261.1 31.2,261.1M233.9,334.3 234,331.2 234.5,328.6 235.2,325.9 236.3,322.8 236.5,321.2 236.4,320.2 235.9,319.2 235,318.1 233.5,317.1 231.1,316 219.9,312.2 189.5,301.3 165.9,294.1 146,287.1 135.5,284.3 115.1,280.2 104.6,277.6 88.3,274.7 82,272.2 79.4,270.7 77.3,269.3 73.1,268.4 67.9,268.1 62.6,268.3 57.9,269 52.2,270.4 34.3,270.2 31.2,270M219.9,334.3 220.2,328.6 219.7,325.9 218.8,324.4 217.8,323.3 215.2,321.6 189,312.9 165.9,306.4 157,303.7 145.5,299.5 132.9,296.3 115.1,292.7 104.6,289.8 88.3,286.5 82.4,284.7 77.3,282.9 73.1,281.9 62.1,281 57.9,280.9 52.2,281.2 31.2,280.1M205.6,334.3 204.7,332 203.1,330.1 200.8,328.6 197.9,327.4 189,324.7 165.9,318.8 157,316.2 147,312.5 140.2,310.5 129.7,307.9 115.1,304.9 104.6,301.7 88.3,297.8 77.3,294.5 73.1,293.5 62.6,292.3 57.9,292 52.2,291.8 31.2,290.2M179.7,334.3 165.9,331.1 157,328.8 149.6,325.9 143.6,323.9 131.8,320.7 115.1,317 104.6,313.4 88.3,308.9 73.1,304.4 58.5,302.7 31.2,300.4M137,334.3 128.2,332 115.1,329 104.6,325.1 73.1,315.1 58.5,313.1 31.2,310.5M97.6,334.3 73.1,325.6 58.5,323.6 31.2,320.6M60.9,334.3 31.2,330.7" fill="none" stroke="#3a5a48" stroke-opacity="0.45" stroke-width="0.5"/>
</g><path d="M31.2,261.2V198.5" stroke="#c8c8c8" stroke-width="0.8" fill="none"/>
<path d="M31.2,334.3h8M31.2,323.9h8M31.2,313.4h8M31.2,303h8M31.2,292.5h8M31.2,282.1h8M31.2,271.6h8M31.2,261.2h8M31.2,250.7h8M31.2,240.3h8M31.2,229.8h8M31.2,219.4h8M31.2,208.9h8M31.2,198.5h8" stroke="#bbb" stroke-opacity="0.55" stroke-width="0.6" fill="none"/>
<path d="M31.2,261.2V334.3H261.8V198.5" stroke="#222" stroke-width="1.3" fill="none"/>
<path d="M31.2,261.2L52.2,261.2L177.9,198.5L261.8,198.5" stroke="#1a8a1a" stroke-width="1.8" fill="none" stroke-linejoin="round"/>
<path d="M36.7,329.1L40.6,329.6M36.7,318.7L40.6,319.2M36.7,308.2L40.6,308.7M42.9,295.4L40.6,298.3M43.2,285.2L40.6,287.8M43.5,275L40.6,277.4M43.8,265L40.6,266.9M47.2,329.1L51.1,329.6M47.2,318.7L51.1,319.2M47.2,308.2L51.1,308.7M53,295.1L51.1,298.3M53.3,284.9L51.1,287.8M53.6,274.7L51.1,277.4M54,264.7L51.1,266.9M57.6,329.1L61.6,329.6M57.6,318.7L61.6,319.2M57.6,308.2L61.6,308.7M63.1,294.9L61.6,298.3M63.3,284.6L61.6,287.8M63.7,274.3L61.6,277.4M64.1,264.2L61.6,266.9M68.1,329.1L72.1,329.6M68.1,318.7L72.1,319.2M68.1,308.2L72.1,308.7M73,294.7L72.1,298.3M73.2,284.3L72.1,287.8M73.5,274L72.1,277.4M73.9,263.7L72.1,266.9M74.5,253.7L72.1,256.5M78.6,329.1L82.6,329.6M78.6,318.7L82.6,319.2M78.6,308.2L82.6,308.7M82.9,294.6L82.6,298.3M83,284.2L82.6,287.8M83.1,273.8L82.6,277.4M83.3,263.3L82.6,266.9M83.7,253L82.6,256.5M89.1,329.1L93,329.6M89.1,318.7L93,319.2M89.1,308.2L93,308.7M92.8,294.6L93,298.3M92.7,284.2L93,287.8M92.6,273.7L93,277.4M92.5,263.3L93,266.9M92.2,252.9L93,256.5M91.4,242.8L93,246M99.6,329.1L103.5,329.6M99.6,318.7L103.5,319.2M99.6,308.2L103.5,308.7M102.7,294.7L103.5,298.3M102.5,284.3L103.5,287.8M102.3,273.9L103.5,277.4M101.9,263.7L103.5,266.9M101.3,253.6L103.5,256.5M102.2,245.2L103.5,246M110.1,329.1L114,329.6M110.1,318.7L114,319.2M110.1,308.2L114,308.7M112.6,294.9L114,298.3M112.4,284.5L114,287.8M112,274.3L114,277.4M111.6,264.1L114,266.9M111.1,254.3L114,256.5M112.5,245.5L114,246M120.5,329.1L124.5,329.6M120.5,318.7L124.5,319.2M120.5,308.2L124.5,308.7M120.5,297.8L124.5,298.3M120.5,287.3L124.5,287.8M120.5,276.9L124.5,277.4M120.5,266.4L124.5,266.9M120.5,256L124.5,256.5M122.9,245.8L124.5,246M131,329.1L135,329.6M131,318.7L135,319.2M131,308.2L135,308.7M131,297.8L135,298.3M131,287.3L135,287.8M131,276.9L135,277.4M131,266.4L135,266.9M133.4,256.3L135,256.5M133.4,245.8L135,246M141.5,329.1L145.5,329.6M141.5,318.7L145.5,319.2M141.5,308.2L145.5,308.7M141.5,297.8L145.5,298.3M141.5,287.3L145.5,287.8M141.5,276.9L145.5,277.4M141.5,266.4L145.5,266.9M143.9,256.3L145.5,256.5M152,329.1L155.9,329.6M152,318.7L155.9,319.2M152,308.2L155.9,308.7M152,297.8L155.9,298.3M152,287.3L155.9,287.8M152,276.9L155.9,277.4M152,266.4L155.9,266.9M154.4,256.3L155.9,256.5M162.5,329.1L166.4,329.6M162.5,318.7L166.4,319.2M162.5,308.2L166.4,308.7M162.5,297.8L166.4,298.3M162.5,287.3L166.4,287.8M162.5,276.9L166.4,277.4M164.9,266.7L166.4,266.9M172.9,329.1L176.9,329.6M172.9,318.7L176.9,319.2M172.9,308.2L176.9,308.7M172.9,297.8L176.9,298.3M172.9,287.3L176.9,287.8M172.9,276.9L176.9,277.4M175.3,266.7L176.9,266.9M183.4,329.1L187.4,329.6M183.4,318.7L187.4,319.2M183.4,308.2L187.4,308.7M183.4,297.8L187.4,298.3M183.4,287.3L187.4,287.8M183.4,276.9L187.4,277.4M185.8,266.7L187.4,266.9M193.9,329.1L197.9,329.6M193.9,318.7L197.9,319.2M193.9,308.2L197.9,308.7M193.9,297.8L197.9,298.3M193.9,287.3L197.9,287.8M196.3,277.2L197.9,277.4M204.4,329.1L208.3,329.6M204.4,318.7L208.3,319.2M204.4,308.2L208.3,308.7M204.4,297.8L208.3,298.3M204.4,287.3L208.3,287.8M206.8,277.2L208.3,277.4M214.9,329.1L218.8,329.6M214.9,318.7L218.8,319.2M214.9,308.2L218.8,308.7M214.9,297.8L218.8,298.3M217.3,287.6L218.8,287.8M217.3,277.2L218.8,277.4M225.4,329.1L229.3,329.6M225.4,318.5L229.3,319.2M225.4,308L229.3,308.7M225.4,297.4L229.3,298.3M227.8,287.5L229.3,287.8M234.7,328.5L239.8,329.6M234.9,317.3L239.8,319.2M235.1,306.4L239.8,308.7M238.4,297.5L239.8,298.3M238.5,287L239.8,287.8M245.5,327.5L250.3,329.6M246.4,315.6L250.3,319.2M247.1,304.6L250.3,308.7M249.4,296.9L250.3,298.3M258.3,325L260.8,329.6M259.6,314.1L260.8,319.2M260.5,307.2L260.8,308.7" stroke="#555" stroke-opacity="0.45" stroke-width="0.45" fill="none"/>
<g fill="#222" fill-opacity="0.75"><circle cx="40.6" cy="329.6" r="0.45"/><circle cx="40.6" cy="319.2" r="0.45"/><circle cx="40.6" cy="308.7" r="0.45"/><circle cx="40.6" cy="298.3" r="0.45"/><circle cx="40.6" cy="287.8" r="0.45"/><circle cx="40.6" cy="277.4" r="0.45"/><circle cx="40.6" cy="266.9" r="0.45"/><circle cx="51.1" cy="329.6" r="0.45"/><circle cx="51.1" cy="319.2" r="0.45"/><circle cx="51.1" cy="308.7" r="0.45"/><circle cx="51.1" cy="298.3" r="0.45"/><circle cx="51.1" cy="287.8" r="0.45"/><circle cx="51.1" cy="277.4" r="0.45"/><circle cx="51.1" cy="266.9" r="0.45"/><circle cx="61.6" cy="329.6" r="0.45"/><circle cx="61.6" cy="319.2" r="0.45"/><circle cx="61.6" cy="308.7" r="0.45"/><circle cx="61.6" cy="298.3" r="0.45"/><circle cx="61.6" cy="287.8" r="0.45"/><circle cx="61.6" cy="277.4" r="0.45"/><circle cx="61.6" cy="266.9" r="0.45"/><circle cx="72.1" cy="329.6" r="0.45"/><circle cx="72.1" cy="319.2" r="0.45"/><circle cx="72.1" cy="308.7" r="0.45"/><circle cx="72.1" cy="298.3" r="0.45"/><circle cx="72.1" cy="287.8" r="0.45"/><circle cx="72.1" cy="277.4" r="0.45"/><circle cx="72.1" cy="266.9" r="0.45"/><circle cx="72.1" cy="256.5" r="0.45"/><circle cx="82.6" cy="329.6" r="0.45"/><circle cx="82.6" cy="319.2" r="0.45"/><circle cx="82.6" cy="308.7" r="0.45"/><circle cx="82.6" cy="298.3" r="0.45"/><circle cx="82.6" cy="287.8" r="0.45"/><circle cx="82.6" cy="277.4" r="0.45"/><circle cx="82.6" cy="266.9" r="0.45"/><circle cx="82.6" cy="256.5" r="0.45"/><circle cx="93" cy="329.6" r="0.45"/><circle cx="93" cy="319.2" r="0.45"/><circle cx="93" cy="308.7" r="0.45"/><circle cx="93" cy="298.3" r="0.45"/><circle cx="93" cy="287.8" r="0.45"/><circle cx="93" cy="277.4" r="0.45"/><circle cx="93" cy="266.9" r="0.45"/><circle cx="93" cy="256.5" r="0.45"/><circle cx="93" cy="246" r="0.45"/><circle cx="103.5" cy="329.6" r="0.45"/><circle cx="103.5" cy="319.2" r="0.45"/><circle cx="103.5" cy="308.7" r="0.45"/><circle cx="103.5" cy="298.3" r="0.45"/><circle cx="103.5" cy="287.8" r="0.45"/><circle cx="103.5" cy="277.4" r="0.45"/><circle cx="103.5" cy="266.9" r="0.45"/><circle cx="103.5" cy="256.5" r="0.45"/><circle cx="103.5" cy="246" r="0.4"/><circle cx="114" cy="329.6" r="0.45"/><circle cx="114" cy="319.2" r="0.45"/><circle cx="114" cy="308.7" r="0.45"/><circle cx="114" cy="298.3" r="0.45"/><circle cx="114" cy="287.8" r="0.45"/><circle cx="114" cy="277.4" r="0.45"/><circle cx="114" cy="266.9" r="0.45"/><circle cx="114" cy="256.5" r="0.45"/><circle cx="114" cy="246" r="0.4"/><circle cx="124.5" cy="329.6" r="0.55"/><circle cx="124.5" cy="319.2" r="0.55"/><circle cx="124.5" cy="308.7" r="0.55"/><circle cx="124.5" cy="298.3" r="0.55"/><circle cx="124.5" cy="287.8" r="0.55"/><circle cx="124.5" cy="277.4" r="0.55"/><circle cx="124.5" cy="266.9" r="0.55"/><circle cx="124.5" cy="256.5" r="0.55"/><circle cx="124.5" cy="246" r="0.4"/><circle cx="135" cy="329.6" r="0.55"/><circle cx="135" cy="319.2" r="0.55"/><circle cx="135" cy="308.7" r="0.55"/><circle cx="135" cy="298.3" r="0.55"/><circle cx="135" cy="287.8" r="0.55"/><circle cx="135" cy="277.4" r="0.55"/><circle cx="135" cy="266.9" r="0.55"/><circle cx="135" cy="256.5" r="0.4"/><circle cx="135" cy="246" r="0.4"/><circle cx="145.5" cy="329.6" r="0.55"/><circle cx="145.5" cy="319.2" r="0.55"/><circle cx="145.5" cy="308.7" r="0.55"/><circle cx="145.5" cy="298.3" r="0.55"/><circle cx="145.5" cy="287.8" r="0.55"/><circle cx="145.5" cy="277.4" r="0.55"/><circle cx="145.5" cy="266.9" r="0.55"/><circle cx="145.5" cy="256.5" r="0.4"/><circle cx="155.9" cy="329.6" r="0.55"/><circle cx="155.9" cy="319.2" r="0.55"/><circle cx="155.9" cy="308.7" r="0.55"/><circle cx="155.9" cy="298.3" r="0.55"/><circle cx="155.9" cy="287.8" r="0.55"/><circle cx="155.9" cy="277.4" r="0.55"/><circle cx="155.9" cy="266.9" r="0.55"/><circle cx="155.9" cy="256.5" r="0.4"/><circle cx="166.4" cy="329.6" r="0.55"/><circle cx="166.4" cy="319.2" r="0.55"/><circle cx="166.4" cy="308.7" r="0.55"/><circle cx="166.4" cy="298.3" r="0.55"/><circle cx="166.4" cy="287.8" r="0.55"/><circle cx="166.4" cy="277.4" r="0.55"/><circle cx="166.4" cy="266.9" r="0.4"/><circle cx="176.9" cy="329.6" r="0.55"/><circle cx="176.9" cy="319.2" r="0.55"/><circle cx="176.9" cy="308.7" r="0.55"/><circle cx="176.9" cy="298.3" r="0.55"/><circle cx="176.9" cy="287.8" r="0.55"/><circle cx="176.9" cy="277.4" r="0.55"/><circle cx="176.9" cy="266.9" r="0.4"/><circle cx="187.4" cy="329.6" r="0.55"/><circle cx="187.4" cy="319.2" r="0.55"/><circle cx="187.4" cy="308.7" r="0.55"/><circle cx="187.4" cy="298.3" r="0.55"/><circle cx="187.4" cy="287.8" r="0.55"/><circle cx="187.4" cy="277.4" r="0.55"/><circle cx="187.4" cy="266.9" r="0.4"/><circle cx="197.9" cy="329.6" r="0.55"/><circle cx="197.9" cy="319.2" r="0.55"/><circle cx="197.9" cy="308.7" r="0.55"/><circle cx="197.9" cy="298.3" r="0.55"/><circle cx="197.9" cy="287.8" r="0.55"/><circle cx="197.9" cy="277.4" r="0.4"/><circle cx="208.3" cy="329.6" r="0.55"/><circle cx="208.3" cy="319.2" r="0.55"/><circle cx="208.3" cy="308.7" r="0.55"/><circle cx="208.3" cy="298.3" r="0.55"/><circle cx="208.3" cy="287.8" r="0.55"/><circle cx="208.3" cy="277.4" r="0.4"/><circle cx="218.8" cy="329.6" r="0.55"/><circle cx="218.8" cy="319.2" r="0.55"/><circle cx="218.8" cy="308.7" r="0.55"/><circle cx="218.8" cy="298.3" r="0.55"/><circle cx="218.8" cy="287.8" r="0.4"/><circle cx="218.8" cy="277.4" r="0.4"/><circle cx="229.3" cy="329.6" r="0.55"/><circle cx="229.3" cy="319.2" r="0.55"/><circle cx="229.3" cy="308.7" r="0.55"/><circle cx="229.3" cy="298.3" r="0.55"/><circle cx="229.3" cy="287.8" r="0.4"/><path transform="translate(239.8,329.6) rotate(12)" d="M0.8,0L-2.4,-1.1L-2.4,1.1Z"/><path transform="translate(239.8,319.2) rotate(20)" d="M0.8,0L-2.4,-1.1L-2.4,1.1Z"/><path transform="translate(239.8,308.7) rotate(26)" d="M0.8,0L-2.4,-1.1L-2.4,1.1Z"/><circle cx="239.8" cy="298.3" r="0.4"/><circle cx="239.8" cy="287.8" r="0.4"/><path transform="translate(250.3,329.6) rotate(24)" d="M0.8,0L-2.4,-1.1L-2.4,1.1Z"/><path transform="translate(250.3,319.2) rotate(43)" d="M0.8,0L-2.4,-1.1L-2.4,1.1Z"/><path transform="translate(250.3,308.7) rotate(53)" d="M0.8,0L-2.4,-1.1L-2.4,1.1Z"/><circle cx="250.3" cy="298.3" r="0.4"/><path transform="translate(260.8,329.6) rotate(62)" d="M0.8,0L-2.4,-1.1L-2.4,1.1Z"/><path transform="translate(260.8,319.2) rotate(77)" d="M0.8,0L-2.4,-1.1L-2.4,1.1Z"/><path transform="translate(260.8,308.7) rotate(82)" d="M0.8,0L-2.4,-1.1L-2.4,1.1Z"/></g>
<g transform="translate(62.3,267.3) rotate(105)"><path d="M-8.0,0L0,0" stroke="#444" stroke-opacity="0.5" stroke-width="0.5"/><path d="M0,0L-5.0,-1.1L-5.0,1.1Z" fill="#111"/></g>
<g transform="translate(81,263.8) rotate(60)"><path d="M-8.0,0L0,0" stroke="#444" stroke-opacity="0.5" stroke-width="0.5"/><path d="M0,0L-5.0,-1.1L-5.0,1.1Z" fill="#111"/></g>
<g transform="translate(95.3,252) rotate(20)"><path d="M-6.4,0L0,0" stroke="#444" stroke-opacity="0.5" stroke-width="0.5"/><path d="M0,0L-4.0,-1.1L-4.0,1.1Z" fill="#111"/></g>
<g transform="translate(157.8,267.4) rotate(10)"><rect x="-7.0" y="-4.7" width="14" height="9.4" fill="#fff"/><text x="0" y="2.9" font-family="Liberation Sans" font-size="8" text-anchor="middle" fill="#3a3a3a">0</text></g>
<g transform="translate(141.9,274) rotate(10)"><rect x="-9.0" y="-4.7" width="18" height="9.4" fill="#fff"/><text x="0" y="2.9" font-family="Liberation Sans" font-size="8" text-anchor="middle" fill="#3a3a3a">10</text></g>
<g transform="translate(128.6,280.9) rotate(10)"><rect x="-9.0" y="-4.7" width="18" height="9.4" fill="#fff"/><text x="0" y="2.9" font-family="Liberation Sans" font-size="8" text-anchor="middle" fill="#3a3a3a">20</text></g>
<g transform="translate(117.6,289.4) rotate(10)"><rect x="-9.0" y="-4.7" width="18" height="9.4" fill="#fff"/><text x="0" y="2.9" font-family="Liberation Sans" font-size="8" text-anchor="middle" fill="#3a3a3a">30</text></g>
<g transform="translate(104.8,297.6) rotate(10)"><rect x="-9.0" y="-4.7" width="18" height="9.4" fill="#fff"/><text x="0" y="2.9" font-family="Liberation Sans" font-size="8" text-anchor="middle" fill="#3a3a3a">40</text></g>
<g transform="translate(89.4,306) rotate(10)"><rect x="-9.0" y="-4.7" width="18" height="9.4" fill="#fff"/><text x="0" y="2.9" font-family="Liberation Sans" font-size="8" text-anchor="middle" fill="#3a3a3a">50</text></g>
<g transform="translate(75.3,315.5) rotate(10)"><rect x="-9.0" y="-4.7" width="18" height="9.4" fill="#fff"/><text x="0" y="2.9" font-family="Liberation Sans" font-size="8" text-anchor="middle" fill="#3a3a3a">60</text></g>
<g transform="translate(58.5,324.7) rotate(10)"><rect x="-9.0" y="-4.7" width="18" height="9.4" fill="#fff"/><text x="0" y="2.9" font-family="Liberation Sans" font-size="8" text-anchor="middle" fill="#3a3a3a">70</text></g>
<path d="M88.7,242.7 101.8,248.5 123.6,255.1 145.5,261.6 165.7,269.5 189.1,277.8 215.2,288.3 236.1,297.4 251.7,305.2 259.6,313 261.5,318.3 261.8,334.3" stroke="#1818ee" stroke-width="1.9" fill="none" stroke-dasharray="3.2 1.9"/>
<path d="M44,222.8L53.2,222.8L48.8,228.9Z" fill="#fff" stroke="#555" stroke-width="0.7"/>
<path d="M45.599999999999994,229.8h6.4M46.599999999999994,231.1h4.4" stroke="#8aa" stroke-width="0.9"/>
<text x="56.1" y="226.0" font-family="Liberation Serif" font-size="9" fill="#222">Water level 3m</text>
<g transform="translate(64.1,232.60000000000002) rotate(55.1)"><path d="M0,-2.4L12.0,-2.4L12.0,-5.0L17.8,0L12.0,5.0L12.0,2.4L0,2.4Z" fill="#5b95d3" stroke="#4a7fb8" stroke-width="0.5"/></g>
<g font-family="Liberation Sans" font-size="8.4" fill="#2a2a2a" stroke="#2a2a2a" stroke-width="0.08"><text x="27" y="337.1" text-anchor="end">0</text><text x="27" y="326.7" text-anchor="end">1</text><text x="27" y="316.2" text-anchor="end">2</text><text x="27" y="305.8" text-anchor="end">3</text><text x="27" y="295.3" text-anchor="end">4</text><text x="27" y="284.9" text-anchor="end">5</text><text x="27" y="274.4" text-anchor="end">6</text><text x="27" y="264" text-anchor="end">7</text><text x="27" y="253.5" text-anchor="end">8</text><text x="27" y="243.1" text-anchor="end">9</text><text x="27" y="232.6" text-anchor="end">10</text><text x="27" y="222.2" text-anchor="end">11</text><text x="27" y="211.7" text-anchor="end">12</text><text x="27" y="201.3" text-anchor="end">13</text><text x="31.2" y="346" text-anchor="middle">0</text><text x="52.2" y="346" text-anchor="middle">2</text><text x="73.1" y="346" text-anchor="middle">4</text><text x="94.1" y="346" text-anchor="middle">6</text><text x="115.1" y="346" text-anchor="middle">8</text><text x="136" y="346" text-anchor="middle">10</text><text x="157" y="346" text-anchor="middle">12</text><text x="177.9" y="346" text-anchor="middle">14</text><text x="198.9" y="346" text-anchor="middle">16</text><text x="219.9" y="346" text-anchor="middle">18</text><text x="240.8" y="346" text-anchor="middle">20</text><text x="261.8" y="346" text-anchor="middle">22</text></g>
<text transform="translate(12.9,267.3) rotate(-90)" text-anchor="middle" font-family="Liberation Serif" font-size="10.5" fill="#1a1a1a" stroke="#1a1a1a" stroke-width="0.25">Heights(m)</text>
<text x="153.8" y="358.3" text-anchor="middle" font-family="Liberation Serif" font-size="10.4" fill="#1a1a1a" stroke="#1a1a1a" stroke-width="0.2">Distance from the bottom of the canal(m)</text>
<text x="134.5" y="377.4" text-anchor="middle" font-family="Liberation Serif" font-size="12.4" letter-spacing="0.45" fill="#111" stroke="#111" stroke-width="0.15">(<tspan font-weight="bold">c</tspan>) Water level 3 m</text><path d="M308.3,260.3 L308.3,218 L414.4,218 L329.5,260.3Z" fill="#c8ecfa"/><clipPath id="domd"><path d="M308.3,334.3 541.8,334.3 541.8,196.8 456.9,196.8 329.5,260.3 308.3,260.3Z"/></clipPath>
<g clip-path="url(#domd)">
<path d="M308.3,334.3 541.8,334.3 541.8,196.8 456.9,196.8 329.5,260.3 308.3,260.3Z" fill="#80aaf2"/>
<path d="M308.3,334.3 541.8,334.3 541.8,196.8 456.9,196.8 329.5,260.3 308.3,260.3Z" fill="#80acf4"/>
<path d="M308.3,334.3 541.8,334.3 541.8,196.8 456.9,196.8 329.5,260.3 308.3,260.3Z" fill="#80aef4"/>
<path d="M308.3,334.3 541.8,334.3 541.8,196.8 456.9,196.8 329.5,260.3 308.3,260.3Z" fill="#7ebcf6"/>
<path fill-rule="evenodd" d="M489.8,196.8 308.3,196.8 308.3,334.3 541.8,334.3 541.8,203.6 530.1,203.2 517.9,201.9 504.7,199.8 489.8,196.8Z" fill="#7ed4f8"/>
<path fill-rule="evenodd" d="M453.2,196.8 308.3,196.8 308.3,334.3 541.8,334.3 541.8,215.9 534.4,215.7 526.4,215 518.5,213.8 509.4,212 493,208 463.3,199.7 456.9,197.5 453.2,196.8Z" fill="#7eeafa"/>
<path fill-rule="evenodd" d="M420.8,196.8 308.3,196.8 308.3,334.3 541.8,334.3 541.8,228.3 534.9,228.1 527.5,227.2 519.5,225.8 511,223.8 496.7,219.7 472.8,211.9 462.2,208.7 456.9,206.8 435.7,202.2 420.8,196.8Z" fill="#7ef8f0"/>
<path fill-rule="evenodd" d="M395.3,196.8 308.3,196.8 308.3,334.3 541.8,334.3 541.8,240.7 534.9,240.4 528,239.5 520.6,237.9 512.6,235.8 502,232.3 474.9,222.2 461.7,217.9 456.9,216.1 435.7,211 407.5,200.7 395.3,196.8Z" fill="#7efae0"/>
<path fill-rule="evenodd" d="M375.7,196.8 308.3,196.8 308.3,334.3 541.8,334.3 541.8,253.1 535.4,252.7 528.5,251.7 521.6,250.1 513.7,247.7 503.1,243.7 478.6,233.4 468,229.3 456.9,225.4 435.7,219.8 407.5,209.5 393.2,204.9 391.1,204.1 375.7,196.8Z" fill="#7ef8cc"/>
<path fill-rule="evenodd" d="M358.2,196.8 308.3,196.8 308.3,334.3 541.8,334.3 541.8,265.4 535.4,265.1 529.1,264 522.2,262.2 515.3,259.9 505.2,255.7 479.7,243.7 468,238.7 456.9,234.7 435.7,228.5 407.5,218.3 391.6,213.1 378.9,207.1 358.2,196.8Z" fill="#82f6b8"/>
<path fill-rule="evenodd" d="M340.1,196.8 308.3,196.8 308.3,334.3 541.8,334.3 541.8,277.8 536,277.5 530.1,276.5 523.8,274.7 516.9,272.2 505.7,267.1 481.3,254.3 470.2,249.1 456.9,244 435.7,237.3 407.5,227.1 391.6,221.8 378.9,215.9 340.6,196.8 340.1,196.8Z" fill="#88f2a6"/>
<path fill-rule="evenodd" d="M322.6,196.8 308.3,196.8 308.3,334.3 541.8,334.3 541.8,290.2 537,289.9 531.7,289 526.4,287.6 521.1,285.7 515.3,283.2 508.9,280 480.8,264 473.9,260.4 468,257.6 456.9,253.3 435.7,246.1 408.1,236 391.6,230.6 378.9,224.6 323,196.8 322.6,196.8Z" fill="#90ee98"/>
<path fill-rule="evenodd" d="M379.4,235.7 378.4,235.6 377.8,236 377.3,236 376.2,237 375.2,237 374.6,237.6 374.1,237.6 373.6,238.1 373,238.1 372.5,238.6 372,238.6 370.9,239.7 369.9,239.7 369.3,240.2 368.8,240.2 368.3,240.7 367.7,240.7 367.2,241.2 366.7,241.2 365.6,242.3 364.6,242.3 364,242.8 363.5,242.8 363,243.3 362.4,243.3 361.9,243.9 361.4,243.9 360.3,244.9 359.2,244.9 358.7,245.5 358.2,245.5 357.7,246 357.1,246 356.6,246.5 356.1,246.5 355,247.6 353.9,247.6 353.4,248.1 352.9,248.1 352.3,248.6 351.8,248.6 351.3,249.2 350.8,249.2 350.2,249.7 349.7,249.7 349.2,250.2 348.6,250.2 347.6,251.3 347,251.3 346.5,251.8 345.4,251.8 344.9,252.3 344.4,252.3 343.9,252.9 343.3,252.9 342.3,253.9 341.7,253.9 341.2,254.5 340.1,254.5 339.6,255 339.1,255 338.5,255.5 338,255.5 337,256.6 336.4,256.6 335.9,257.1 334.8,257.1 334.3,257.6 333.8,257.6 333.2,258.2 332.7,258.2 331.7,259.2 331.1,259.2 330.6,259.7 308.3,259.7 308.3,334.3 541.8,334.3 541.7,333.8 541.7,314.7 541.7,313.7 541.3,313.1 541.2,302.6 540.2,301.7 539.7,301.6 539.1,301.2 538.6,301.1 537.6,300.2 537,300.1 536.5,299.7 536,299.6 535.4,299.1 534.9,299.1 534.4,298.6 533.8,298.6 533.3,298.1 532.8,298.1 532.2,297.6 531.7,297.6 531.2,297.1 530.7,297 530.1,296.5 529.6,296.5 529.1,296 528.5,296 528,295.5 527.5,295.5 526.9,295 525.9,294.9 525.3,294.4 524.8,294.4 524.3,293.9 523.8,293.9 523.2,293.4 522.7,293.4 522.2,292.9 521.1,292.8 520.6,292.3 520,292.3 519.5,291.8 519,291.8 518.5,291.3 517.4,291.2 516.9,290.7 516.3,290.7 515.8,290.2 515.3,290.2 514.7,289.7 514.2,289.7 513.7,289.2 512.6,289.1 512.1,288.6 511.6,288.6 511,288.1 510.5,288.1 510,287.5 508.9,287.5 508.4,287 507.8,287 507.3,286.5 506.8,286.5 506.2,285.9 505.7,285.9 505.2,285.4 504.7,285.4 504.1,284.9 503.6,284.9 503.1,284.3 502.5,284.3 502,283.8 501.5,283.8 500.9,283.3 500.4,283.3 499.9,282.7 499.3,282.7 498.8,282.2 497.8,282.2 497.2,281.6 496.7,281.6 496.2,281.1 495.6,281.1 495.1,280.6 494.6,280.6 494,280 493.5,280 493,279.5 492.4,279.5 491.9,279 491.4,278.9 490.9,278.4 490.3,278.4 489.8,277.9 489.3,277.9 488.7,277.3 488.2,277.3 487.7,276.8 487.1,276.8 486.6,276.3 486.1,276.2 485.5,275.7 485,275.7 484.5,275.2 483.4,275.1 482.9,274.6 482.4,274.6 481.8,274.1 481.3,274.1 480.2,273 479.7,273 479.2,272.5 478.6,272.5 478.1,272 477.6,272 477.1,271.4 476.5,271.4 476,270.9 475.5,270.9 474.9,270.4 474.4,270.4 473.3,269.3 472.8,269.3 472.3,268.8 471.8,268.8 471.2,268.3 470.7,268.2 470.2,267.7 469.6,267.7 469.1,267.2 468.6,267.2 468,266.7 467,266.7 466.4,266.1 465.9,266.1 465.4,265.6 464.3,265.6 463.8,265.1 463.3,265.1 462.7,264.5 461.7,264.5 461.1,264 460.6,264 460.1,263.5 459,263.5 458.5,263 458,263 457.4,262.4 456.4,262.4 455.8,261.9 454.8,261.9 454.2,261.4 453.2,261.4 452.6,260.8 452.1,260.8 451.6,260.3 450.5,260.3 450,259.8 448.9,259.8 448.4,259.2 447.3,259.2 446.8,258.7 445.7,258.7 445.2,258.2 444.2,258.2 443.6,257.7 442.6,257.7 442,257.1 441.5,257.1 441,256.6 439.9,256.6 439.4,256.1 438.3,256.1 437.8,255.5 436.7,255.5 436.2,255 435.1,255 434.6,254.5 433.5,254.5 433,254 431.9,254 431.4,253.4 430.9,253.4 430.4,252.9 429.3,252.9 428.8,252.4 427.7,252.4 427.2,251.8 426.1,251.8 425.6,251.3 424.5,251.3 424,250.8 422.9,250.8 422.4,250.2 421.3,250.2 420.8,249.7 419.7,249.7 419.2,249.2 418.7,249.2 418.2,248.7 417.1,248.7 416.6,248.1 415.5,248.1 415,247.6 413.9,247.6 413.4,247.1 412.3,247.1 411.8,246.5 410.7,246.5 410.2,246 409.1,246 408.6,245.5 408.1,245.5 407.5,245 405.9,245 405.4,244.4 404.4,244.4 403.8,243.9 402.8,243.9 402.2,243.4 401.2,243.4 400.6,242.8 399,242.8 398.5,242.3 397.5,242.3 396.9,241.8 395.9,241.8 395.3,241.3 394.3,241.3 393.7,240.7 392.1,240.7 391.6,240.2 391.1,240.2 390.6,239.7 389.5,239.7 389,239.2 388.4,239.2 387.9,238.6 386.8,238.6 386.3,238.1 385.8,238.1 385.2,237.6 384.2,237.6 383.7,237.1 382.6,237.1 382.1,236.6 381.5,236.6 381,236.1 379.9,236.1 379.4,235.7Z" fill="#8aea80"/>
<path fill-rule="evenodd" d="M373,238.6 372.5,239 372,239 370.9,240 369.9,240 369.3,240.5 368.8,240.5 368.3,241 367.7,241 367.2,241.5 366.7,241.5 365.6,242.5 364.6,242.5 364,243 363.5,243 363,243.5 362.4,243.5 361.9,244.1 361.4,244 360.3,245.1 359.2,245.1 358.7,245.6 358.2,245.6 357.7,246.1 357.1,246.1 356.6,246.7 356.1,246.7 355,247.7 353.9,247.7 353.4,248.3 352.9,248.3 352.3,248.8 351.8,248.8 351.3,249.3 350.8,249.3 350.2,249.8 349.7,249.9 349.2,250.4 348.6,250.4 347.6,251.4 347,251.4 346.5,252 345.4,252 344.9,252.5 344.4,252.5 343.9,253 343.3,253 342.3,254.1 341.7,254.1 341.2,254.6 340.1,254.6 339.6,255.1 339.1,255.1 338.5,255.7 338,255.7 337,256.7 336.4,256.7 335.9,257.3 334.8,257.3 334.3,257.8 333.8,257.8 333.2,258.3 332.7,258.3 331.7,259.4 331.1,259.4 330.6,259.9 308.3,259.9 308.3,334.3 530.7,334.3 531,332.2 531.7,330.1 532.6,328.5 533.8,326.9 536.5,325 538.6,324.1 540.7,323.7 541.1,323.2 541.2,321.6 540.7,309.9 537,307.7 529.1,303.9 508.4,295.5 499.3,291.4 482.4,283 469.1,275.5 443.3,264.5 435.7,261.1 419.7,253.6 411.3,250 407.5,248.7 403.8,247.7 399.6,246.9 395.9,246.5 387.9,246.4 383.7,246.8 379.4,247.6 378.9,247.4 376.1,243.9 374.6,241.4 373.3,238.6 373,238.6Z" fill="#a2ec78"/>
<path fill-rule="evenodd" d="M367.2,241.7 366.7,241.7 365.6,242.7 364.6,242.7 364,243.2 363.5,243.2 363,243.7 362.4,243.7 361.9,244.2 361.4,244.2 360.3,245.3 359.2,245.2 358.7,245.8 358.2,245.8 357.7,246.3 357.1,246.3 356.6,246.8 356.1,246.8 355,247.9 353.9,247.9 353.4,248.4 352.9,248.4 352.3,248.9 351.8,248.9 351.3,249.5 350.8,249.5 350.2,250 349.7,250 349.2,250.5 348.6,250.5 347.6,251.6 347,251.6 346.5,252.1 345.4,252.1 344.9,252.7 344.4,252.7 343.9,253.2 343.3,253.2 342.3,254.2 341.7,254.2 341.2,254.8 340.1,254.8 339.6,255.3 339.1,255.3 338.5,255.8 338,255.8 337,256.9 336.4,256.9 335.9,257.4 334.8,257.4 334.3,258 333.8,258 333.2,258.5 332.7,258.5 331.7,259.5 331.1,259.5 330.6,260.1 308.3,260.1 308.3,334.3 518.8,334.3 519,331.7 519.5,329.5 521,325.3 523.2,321.6 526.5,317.9 527.5,316.3 527.6,315.3 527.4,314.7 526.4,313.7 525.6,313.1 523.2,312.1 508.4,306.9 499.3,303.4 482.4,295.5 469.1,288.5 435.7,276 419.2,268.9 408.6,264.7 400.6,262.3 393.8,260.8 386.3,259.8 379.4,259.5 378.9,259.4 374.7,255.5 371.8,251.8 369.4,247.6 368.4,244.9 367.5,241.8 367.2,241.7Z" fill="#c0f078"/>
<path fill-rule="evenodd" d="M361.4,244.4 360.3,245.4 359.2,245.4 358.7,245.9 358.2,245.9 357.7,246.5 357.1,246.5 356.6,247 356.1,247 355,248 353.9,248 353.4,248.6 352.9,248.6 352.3,249.1 351.8,249.1 351.3,249.6 350.8,249.6 350.2,250.2 349.7,250.2 349.2,250.7 348.6,250.7 347.6,251.8 347,251.8 346.5,252.3 345.4,252.3 344.9,252.8 344.4,252.8 343.9,253.3 343.3,253.3 342.3,254.4 341.7,254.4 341.2,254.9 340.1,254.9 339.6,255.5 339.1,255.5 338.5,256 338,256 337,257.1 336.4,257.1 335.9,257.6 334.8,257.6 334.3,258.1 333.8,258.1 333.2,258.6 332.7,258.7 331.7,259.7 331.1,259.7 330.6,260.2 308.3,260.3 308.3,334.3 507,334.3 507.4,329.5 509,323.2 509.1,321.6 508.9,320.6 508.5,319.5 506.8,317.9 504.7,316.8 499.3,315 482.4,307.6 469.1,300.9 456.9,296.6 435.7,289.6 418.2,282.3 407.5,278.1 399.6,275.5 393.2,273.8 385.8,272.2 378.9,271.2 374.6,268.4 371.5,265.8 368.6,262.9 366.3,259.7 364.5,256.6 363.1,252.9 362.1,248.6 361.6,244.4 361.4,244.4Z" fill="#e0f478"/>
<path fill-rule="evenodd" d="M359.2,267.1 353.4,266.8 347,267.2 339.1,268.9 329.5,271.8 308.3,271.9 308.3,334.3 495.1,334.3 495.3,329.5 494.6,326.9 494,325.8 493,324.5 490.3,322.7 482.4,319.4 469.1,313.1 456.9,308.9 435.7,302.6 407.5,291 393.2,286.3 385.8,284.4 378.9,283 372,279.3 366.7,275.6 362.4,271.6 360.6,269.3 359.2,267.1Z" fill="#f8f478"/>
<path fill-rule="evenodd" d="M348.6,283 344.9,282.9 339.6,283.1 329.5,284.1 308.3,283.5 308.3,334.3 482.5,334.3 481,331.7 478.6,329.5 476.8,328.5 469.1,325 456.9,321.1 435.7,315.2 409.7,304.3 402.8,301.7 393.2,298.4 385.2,296.2 378.9,294.7 372.5,292 367.7,289.7 362.7,286.7 359.2,284.3 348.6,283Z" fill="#f8e078"/>
<path fill-rule="evenodd" d="M320.5,295.7 308.3,295.2 308.3,334.3 460.8,334.3 456.4,333 435.7,327.7 407.5,315.6 393.2,310.4 378.9,306.4 374.1,304.7 367.2,302 359.2,298.4 347,296.5 338,296.1 329.5,296.2 320.5,295.7Z" fill="#f8c878"/>
<path fill-rule="evenodd" d="M308.3,306.8 308.3,334.3 422.6,334.3 407.5,327.7 393.7,322.4 373,316.2 359.2,311.4 347.6,309.4 343.9,309 308.3,306.8Z" fill="#f8aa76"/>
<path fill-rule="evenodd" d="M316.3,318.9 308.3,318.4 308.3,334.3 394,334.3 384.7,331.4 359.2,323.9 347.6,321.7 344.9,321.4 327.4,319.6 316.3,318.9Z" fill="#f49678"/>
<path fill-rule="evenodd" d="M315.7,330.6 308.3,330.1 308.3,334.3 350.5,334.3 345.4,333.5 327.4,331.4 315.7,330.6Z" fill="#f07e78"/>
<path d="M541.8,203.6 530.1,203.2 517.9,201.9 504.7,199.8 489.9,196.8M541.8,215.9 534.4,215.7 526.4,215 518.5,213.8 509.4,212 492.4,207.8 463.3,199.7 456.9,197.5 453.4,196.8M541.8,228.3 534.9,228.1 527.5,227.2 519.5,225.8 511,223.8 496.7,219.7 472.8,211.9 462.2,208.7 456.9,206.8 435.7,202.2 420.9,196.8M541.8,240.7 534.9,240.4 528,239.5 520.6,237.9 512.6,235.8 502,232.3 474.9,222.2 461.7,217.9 456.9,216.1 435.7,211 408.1,200.9 395.4,196.8M541.8,253.1 535.4,252.7 528.5,251.7 521.6,250.1 513.7,247.7 503.1,243.7 478.6,233.4 468,229.3 456.9,225.4 435.7,219.8 407.5,209.5 393.2,204.9 391.1,204.1 375.8,196.8M541.8,265.4 535.4,265.1 529.1,264 522.2,262.2 515.3,259.9 505.2,255.7 479.7,243.7 468,238.7 456.9,234.7 435.7,228.5 407.5,218.3 391.6,213.1 378.9,207.1 358.2,196.8M541.8,277.8 536.5,277.5 531.2,276.7 525.3,275.2 519.5,273.2 513.7,270.9 507.3,267.9 480.2,253.8 473.9,250.7 468,248.2 456.9,244 435.7,237.3 407.5,227.1 391.6,221.8 378.9,215.9 340.6,196.8M541.8,290.2 537,289.9 531.7,289 526.4,287.6 521.1,285.7 515.3,283.2 508.9,280 480.8,264 473.9,260.4 468,257.6 456.9,253.3 435.7,246.1 408.1,236 391.6,230.6 378.9,224.6 323,196.8M530.7,334.3 531,332.2 531.7,330.1 532.6,328.5 533.8,326.9 536.5,325 538.6,324.1 540.7,323.7 541.1,323.2 541.2,321.6 540.7,309.9 537,307.7 529.1,303.9 508.4,295.5 499.3,291.4 482.4,283 469.1,275.5 451.8,268.2 435.7,261.1 417.6,252.6 408.1,248.9 401.2,247.2 394.3,246.4 386.8,246.5 379.4,247.6 378.9,247.4 376.5,244.4 374.6,241.4 373.3,238.6 373,238.6 372.5,239 372,239 370.9,240 369.9,240 369.3,240.5 368.8,240.5 368.3,241 367.7,241 367.2,241.5 366.7,241.5 365.6,242.5 364.6,242.5 364,243 363.5,243 363,243.5 362.4,243.5 361.9,244.1 361.4,244 360.3,245.1 359.2,245.1 358.7,245.6 358.2,245.6 357.7,246.1 357.1,246.1 356.6,246.7 356.1,246.7 355,247.7 353.9,247.7 353.4,248.3 352.9,248.3 352.3,248.8 351.8,248.8 351.3,249.3 350.8,249.3 350.2,249.8 349.7,249.9 349.2,250.4 348.6,250.4 347.6,251.4 347,251.4 346.5,252 345.4,252 344.9,252.5 344.4,252.5 343.9,253 343.3,253 342.3,254.1 341.7,254.1 341.2,254.6 340.1,254.6 339.6,255.1 339.1,255.1 338.5,255.7 338,255.7 337,256.7 336.4,256.7 335.9,257.3 334.8,257.3 334.3,257.8 333.8,257.8 333.2,258.3 332.7,258.3 331.7,259.4 331.1,259.4 330.6,259.9 308.3,259.9M518.8,334.3 519,331.7 519.5,329.5 521,325.3 523.2,321.6 526.5,317.9 527.5,316.3 527.6,315.3 527.4,314.7 526.4,313.7 525.6,313.1 523.2,312.1 508.4,306.9 499.3,303.4 482.4,295.5 469.1,288.5 435.7,276 419.2,268.9 408.6,264.7 400.6,262.3 393.8,260.8 386.3,259.8 379.4,259.5 378.9,259.4 374.6,255.4 371.5,251.3 369.2,247 367.5,241.8 366.7,241.7 365.6,242.7 364.6,242.7 364,243.2 363.5,243.2 363,243.7 362.4,243.7 361.9,244.2 361.4,244.2 360.3,245.3 359.2,245.2 358.7,245.8 358.2,245.8 357.7,246.3 357.1,246.3 356.6,246.8 356.1,246.8 355,247.9 353.9,247.9 353.4,248.4 352.9,248.4 352.3,248.9 351.8,248.9 351.3,249.5 350.8,249.5 350.2,250 349.7,250 349.2,250.5 348.6,250.5 347.6,251.6 347,251.6 346.5,252.1 345.4,252.1 344.9,252.7 344.4,252.7 343.9,253.2 343.3,253.2 342.3,254.2 341.7,254.2 341.2,254.8 340.1,254.8 339.6,255.3 339.1,255.3 338.5,255.8 338,255.8 337,256.9 336.4,256.9 335.9,257.4 334.8,257.4 334.3,258 333.8,258 333.2,258.5 332.7,258.5 331.7,259.5 331.1,259.5 330.6,260.1 308.3,260.1M507,334.3 507.4,329.5 509,323.2 509.1,321.6 508.9,320.6 508.5,319.5 506.8,317.9 504.7,316.8 499.3,315 482.4,307.6 469.1,300.9 456.9,296.6 435.7,289.6 418.2,282.3 407.5,278.1 399.6,275.5 393.2,273.8 385.8,272.2 378.9,271.2 374.6,268.4 371.5,265.8 368.6,262.9 366.3,259.7 364.3,256 363,252.4 362.1,248.6 361.6,244.4 361.4,244.4 360.3,245.4 359.2,245.4 358.7,245.9 358.2,245.9 357.7,246.5 357.1,246.5 356.6,247 356.1,247 355,248 353.9,248 353.4,248.6 352.9,248.6 352.3,249.1 351.8,249.1 351.3,249.6 350.8,249.6 350.2,250.2 349.7,250.2 349.2,250.7 348.6,250.7 347.6,251.8 347,251.8 346.5,252.3 345.4,252.3 344.9,252.8 344.4,252.8 343.9,253.3 343.3,253.3 342.3,254.4 341.7,254.4 341.2,254.9 340.1,254.9 339.6,255.5 339.1,255.5 338.5,256 338,256 337,257.1 336.4,257.1 335.9,257.6 334.8,257.6 334.3,258.1 333.8,258.1 333.2,258.6 332.7,258.7 331.7,259.7 331.1,259.7 330.6,260.2 308.3,260.3M495.1,334.3 495.3,329.5 494.6,326.9 494,325.8 493,324.5 490.3,322.7 482.4,319.4 469.1,313.1 456.9,308.9 435.7,302.6 407.5,291 393.2,286.3 385.8,284.4 378.9,283 372,279.3 366.7,275.6 362.4,271.6 360.6,269.3 359.2,267.1 353.4,266.8 347,267.2 339.1,268.9 329.5,271.8 308.3,271.9M482.5,334.3 481,331.7 478.6,329.5 476.8,328.5 469.1,325 456.9,321.1 435.7,315.2 409.7,304.3 402.8,301.7 393.2,298.4 385.2,296.2 378.9,294.7 372.5,292 367.7,289.7 362.7,286.7 359.2,284.3 352.9,283.4 347,282.9 338.5,283.1 329.5,284.1 308.3,283.5M460.8,334.3 456.4,333 435.7,327.7 407.5,315.6 393.2,310.4 378.9,306.4 374.1,304.7 367.2,302 359.2,298.4 351.3,297.1 346,296.4 337.5,296.1 329.5,296.2 308.3,295.2M422.6,334.3 407.5,327.7 393.7,322.4 373,316.2 359.2,311.4 347.6,309.4 343.9,309 308.3,306.8M394,334.3 384.7,331.4 359.2,323.9 352.9,322.6 347,321.6 337,320.5 327.4,319.6 308.3,318.4M350.5,334.3 345.4,333.5 327.4,331.4 308.3,330.1" fill="none" stroke="#3a5a48" stroke-opacity="0.45" stroke-width="0.5"/>
</g><path d="M308.3,260.3V196.8" stroke="#c8c8c8" stroke-width="0.8" fill="none"/>
<path d="M308.3,334.3h8M308.3,323.7h8M308.3,313.1h8M308.3,302.6h8M308.3,292h8M308.3,281.4h8M308.3,270.8h8M308.3,260.3h8M308.3,249.7h8M308.3,239.1h8M308.3,228.5h8M308.3,218h8M308.3,207.4h8M308.3,196.8h8" stroke="#bbb" stroke-opacity="0.55" stroke-width="0.6" fill="none"/>
<path d="M308.3,260.3V334.3H541.8V196.8" stroke="#222" stroke-width="1.3" fill="none"/>
<path d="M308.3,260.3L329.5,260.3L456.9,196.8L541.8,196.8" stroke="#1a8a1a" stroke-width="1.8" fill="none" stroke-linejoin="round"/>
<path d="M313.8,329.1L317.9,329.5M313.8,318.5L317.9,319M313.8,307.9L317.9,308.4M320.3,295.1L317.9,297.8M320.6,284.7L317.9,287.2M320.8,274.4L317.9,276.7M321.1,264.2L317.9,266.1M324.5,329.1L328.5,329.5M324.5,318.5L328.5,319M324.5,307.9L328.5,308.4M330.7,294.8L328.5,297.8M330.9,284.5L328.5,287.2M331.2,274.2L328.5,276.7M331.5,263.9L328.5,266.1M335.1,329.1L339.1,329.5M335.1,318.5L339.1,319M335.1,307.9L339.1,308.4M341,294.6L339.1,297.8M341.2,284.2L339.1,287.2M341.5,273.8L339.1,276.7M341.8,263.6L339.1,266.1M345.7,329.1L349.7,329.5M345.7,318.5L349.7,319M345.7,307.9L349.7,308.4M351.2,294.4L349.7,297.8M351.4,283.9L349.7,287.2M351.7,273.5L349.7,276.7M352,263.2L349.7,266.1M352.5,253.1L349.7,255.5M356.3,329.1L360.3,329.5M356.3,318.5L360.3,319M356.3,307.9L360.3,308.4M361.3,294.2L360.3,297.8M361.5,283.7L360.3,287.2M361.7,273.2L360.3,276.7M362,262.8L360.3,266.1M362.5,252.5L360.3,255.5M366.9,329.1L370.9,329.5M366.9,318.5L370.9,319M366.9,307.9L370.9,308.4M371.4,294.1L370.9,297.8M371.4,283.6L370.9,287.2M371.6,273L370.9,276.7M371.7,262.5L370.9,266.1M372.1,252L370.9,255.5M372.7,241.7L370.9,244.9M377.5,329.1L381.5,329.5M377.5,318.5L381.5,319M377.5,307.9L381.5,308.4M381.4,294.1L381.5,297.8M381.4,283.5L381.5,287.2M381.3,273L381.5,276.7M381.3,262.4L381.5,266.1M381.2,251.8L381.5,255.5M380.9,241.3L381.5,244.9M388.1,329.1L392.1,329.5M388.1,318.5L392.1,319M388.1,307.9L392.1,308.4M391.4,294.2L392.1,297.8M391.3,283.6L392.1,287.2M391.1,273.1L392.1,276.7M390.9,262.6L392.1,266.1M390.4,252.2L392.1,255.5M389.7,242.2L392.1,244.9M390.6,233.9L392.1,234.3M398.8,329.1L402.8,329.5M398.8,318.5L402.8,319M398.8,307.9L402.8,308.4M401.5,294.3L402.8,297.8M401.3,283.8L402.8,287.2M401.1,273.4L402.8,276.7M400.7,263L402.8,266.1M400.2,252.8L402.8,255.5M399.6,243L402.8,244.9M401.2,234.1L402.8,234.3M409.4,329.1L413.4,329.5M409.4,318.5L413.4,319M409.4,307.9L413.4,308.4M409.4,297.3L413.4,297.8M409.4,286.8L413.4,287.2M409.4,276.2L413.4,276.7M409.4,265.6L413.4,266.1M409.4,255L413.4,255.5M411.8,244.7L413.4,244.9M420,329.1L424,329.5M420,318.5L424,319M420,307.9L424,308.4M420,297.3L424,297.8M420,286.8L424,287.2M420,276.2L424,276.7M420,265.6L424,266.1M420,255L424,255.5M422.4,244.7L424,244.9M430.6,329.1L434.6,329.5M430.6,318.5L434.6,319M430.6,307.9L434.6,308.4M430.6,297.3L434.6,297.8M430.6,286.8L434.6,287.2M430.6,276.2L434.6,276.7M430.6,265.6L434.6,266.1M430.6,255L434.6,255.5M433,244.7L434.6,244.9M441.2,329.1L445.2,329.5M441.2,318.5L445.2,319M441.2,307.9L445.2,308.4M441.2,297.3L445.2,297.8M441.2,286.8L445.2,287.2M441.2,276.2L445.2,276.7M441.2,265.6L445.2,266.1M443.6,255.3L445.2,255.5M451.8,329.1L455.8,329.5M451.8,318.5L455.8,319M451.8,307.9L455.8,308.4M451.8,297.3L455.8,297.8M451.8,286.8L455.8,287.2M451.8,276.2L455.8,276.7M451.8,265.6L455.8,266.1M454.2,255.3L455.8,255.5M462.4,329.1L466.4,329.5M462.4,318.5L466.4,319M462.4,307.9L466.4,308.4M462.4,297.3L466.4,297.8M462.4,286.8L466.4,287.2M462.4,276.2L466.4,276.7M464.9,265.9L466.4,266.1M464.9,255.3L466.4,255.5M473.1,329.1L477.1,329.5M473.1,318.5L477.1,319M473.1,307.9L477.1,308.4M473.1,297.3L477.1,297.8M473.1,286.8L477.1,287.2M473.1,276.2L477.1,276.7M475.5,265.9L477.1,266.1M483.7,329.1L487.7,329.5M483.7,318.5L487.7,319M483.7,307.9L487.7,308.4M483.7,297.3L487.7,297.8M483.7,286.8L487.7,287.2M486.1,276.5L487.7,276.7M486.1,265.9L487.7,266.1M494.3,329.1L498.3,329.5M494.3,318.5L498.3,319M494.3,307.9L498.3,308.4M494.3,297.3L498.3,297.8M494.3,286.8L498.3,287.2M496.7,276.5L498.3,276.7M504.9,329L508.9,329.5M504.9,318.3L508.9,319M504.9,307.6L508.9,308.4M505,297L508.9,297.8M507.3,286.9L508.9,287.2M507.3,276.3L508.9,276.7M514.3,328.5L519.5,329.5M514.5,317.1L519.5,319M514.8,306L519.5,308.4M514.9,295.1L519.5,297.8M518.2,286.4L519.5,287.2M525.3,327.4L530.1,329.5M526.2,315.4L530.1,319M526.9,304.2L530.1,308.4M527.3,293.3L530.1,297.8M529.4,285.8L530.1,287.2M538.2,324.9L540.7,329.5M539.6,313.8L540.7,319M540,303.2L540.7,308.4M540.6,296.2L540.7,297.8" stroke="#555" stroke-opacity="0.45" stroke-width="0.45" fill="none"/>
<g fill="#222" fill-opacity="0.75"><circle cx="317.9" cy="329.5" r="0.45"/><circle cx="317.9" cy="319" r="0.45"/><circle cx="317.9" cy="308.4" r="0.45"/><circle cx="317.9" cy="297.8" r="0.45"/><circle cx="317.9" cy="287.2" r="0.45"/><circle cx="317.9" cy="276.7" r="0.45"/><circle cx="317.9" cy="266.1" r="0.45"/><circle cx="328.5" cy="329.5" r="0.45"/><circle cx="328.5" cy="319" r="0.45"/><circle cx="328.5" cy="308.4" r="0.45"/><circle cx="328.5" cy="297.8" r="0.45"/><circle cx="328.5" cy="287.2" r="0.45"/><circle cx="328.5" cy="276.7" r="0.45"/><circle cx="328.5" cy="266.1" r="0.45"/><circle cx="339.1" cy="329.5" r="0.45"/><circle cx="339.1" cy="319" r="0.45"/><circle cx="339.1" cy="308.4" r="0.45"/><circle cx="339.1" cy="297.8" r="0.45"/><circle cx="339.1" cy="287.2" r="0.45"/><circle cx="339.1" cy="276.7" r="0.45"/><circle cx="339.1" cy="266.1" r="0.45"/><circle cx="349.7" cy="329.5" r="0.45"/><circle cx="349.7" cy="319" r="0.45"/><circle cx="349.7" cy="308.4" r="0.45"/><circle cx="349.7" cy="297.8" r="0.45"/><circle cx="349.7" cy="287.2" r="0.45"/><circle cx="349.7" cy="276.7" r="0.45"/><circle cx="349.7" cy="266.1" r="0.45"/><circle cx="349.7" cy="255.5" r="0.45"/><circle cx="360.3" cy="329.5" r="0.45"/><circle cx="360.3" cy="319" r="0.45"/><circle cx="360.3" cy="308.4" r="0.45"/><circle cx="360.3" cy="297.8" r="0.45"/><circle cx="360.3" cy="287.2" r="0.45"/><circle cx="360.3" cy="276.7" r="0.45"/><circle cx="360.3" cy="266.1" r="0.45"/><circle cx="360.3" cy="255.5" r="0.45"/><circle cx="370.9" cy="329.5" r="0.45"/><circle cx="370.9" cy="319" r="0.45"/><circle cx="370.9" cy="308.4" r="0.45"/><circle cx="370.9" cy="297.8" r="0.45"/><circle cx="370.9" cy="287.2" r="0.45"/><circle cx="370.9" cy="276.7" r="0.45"/><circle cx="370.9" cy="266.1" r="0.45"/><circle cx="370.9" cy="255.5" r="0.45"/><circle cx="370.9" cy="244.9" r="0.45"/><circle cx="381.5" cy="329.5" r="0.45"/><circle cx="381.5" cy="319" r="0.45"/><circle cx="381.5" cy="308.4" r="0.45"/><circle cx="381.5" cy="297.8" r="0.45"/><circle cx="381.5" cy="287.2" r="0.45"/><circle cx="381.5" cy="276.7" r="0.45"/><circle cx="381.5" cy="266.1" r="0.45"/><circle cx="381.5" cy="255.5" r="0.45"/><circle cx="381.5" cy="244.9" r="0.45"/><circle cx="392.1" cy="329.5" r="0.45"/><circle cx="392.1" cy="319" r="0.45"/><circle cx="392.1" cy="308.4" r="0.45"/><circle cx="392.1" cy="297.8" r="0.45"/><circle cx="392.1" cy="287.2" r="0.45"/><circle cx="392.1" cy="276.7" r="0.45"/><circle cx="392.1" cy="266.1" r="0.45"/><circle cx="392.1" cy="255.5" r="0.45"/><circle cx="392.1" cy="244.9" r="0.45"/><circle cx="392.1" cy="234.3" r="0.4"/><circle cx="402.8" cy="329.5" r="0.55"/><circle cx="402.8" cy="319" r="0.55"/><circle cx="402.8" cy="308.4" r="0.55"/><circle cx="402.8" cy="297.8" r="0.55"/><circle cx="402.8" cy="287.2" r="0.55"/><circle cx="402.8" cy="276.7" r="0.55"/><circle cx="402.8" cy="266.1" r="0.55"/><circle cx="402.8" cy="255.5" r="0.55"/><circle cx="402.8" cy="244.9" r="0.55"/><circle cx="402.8" cy="234.3" r="0.4"/><circle cx="413.4" cy="329.5" r="0.55"/><circle cx="413.4" cy="319" r="0.55"/><circle cx="413.4" cy="308.4" r="0.55"/><circle cx="413.4" cy="297.8" r="0.55"/><circle cx="413.4" cy="287.2" r="0.55"/><circle cx="413.4" cy="276.7" r="0.55"/><circle cx="413.4" cy="266.1" r="0.55"/><circle cx="413.4" cy="255.5" r="0.55"/><circle cx="413.4" cy="244.9" r="0.4"/><circle cx="424" cy="329.5" r="0.55"/><circle cx="424" cy="319" r="0.55"/><circle cx="424" cy="308.4" r="0.55"/><circle cx="424" cy="297.8" r="0.55"/><circle cx="424" cy="287.2" r="0.55"/><circle cx="424" cy="276.7" r="0.55"/><circle cx="424" cy="266.1" r="0.55"/><circle cx="424" cy="255.5" r="0.55"/><circle cx="424" cy="244.9" r="0.4"/><circle cx="434.6" cy="329.5" r="0.55"/><circle cx="434.6" cy="319" r="0.55"/><circle cx="434.6" cy="308.4" r="0.55"/><circle cx="434.6" cy="297.8" r="0.55"/><circle cx="434.6" cy="287.2" r="0.55"/><circle cx="434.6" cy="276.7" r="0.55"/><circle cx="434.6" cy="266.1" r="0.55"/><circle cx="434.6" cy="255.5" r="0.55"/><circle cx="434.6" cy="244.9" r="0.4"/><circle cx="445.2" cy="329.5" r="0.55"/><circle cx="445.2" cy="319" r="0.55"/><circle cx="445.2" cy="308.4" r="0.55"/><circle cx="445.2" cy="297.8" r="0.55"/><circle cx="445.2" cy="287.2" r="0.55"/><circle cx="445.2" cy="276.7" r="0.55"/><circle cx="445.2" cy="266.1" r="0.55"/><circle cx="445.2" cy="255.5" r="0.4"/><circle cx="455.8" cy="329.5" r="0.55"/><circle cx="455.8" cy="319" r="0.55"/><circle cx="455.8" cy="308.4" r="0.55"/><circle cx="455.8" cy="297.8" r="0.55"/><circle cx="455.8" cy="287.2" r="0.55"/><circle cx="455.8" cy="276.7" r="0.55"/><circle cx="455.8" cy="266.1" r="0.55"/><circle cx="455.8" cy="255.5" r="0.4"/><circle cx="466.4" cy="329.5" r="0.55"/><circle cx="466.4" cy="319" r="0.55"/><circle cx="466.4" cy="308.4" r="0.55"/><circle cx="466.4" cy="297.8" r="0.55"/><circle cx="466.4" cy="287.2" r="0.55"/><circle cx="466.4" cy="276.7" r="0.55"/><circle cx="466.4" cy="266.1" r="0.4"/><circle cx="466.4" cy="255.5" r="0.4"/><circle cx="477.1" cy="329.5" r="0.55"/><circle cx="477.1" cy="319" r="0.55"/><circle cx="477.1" cy="308.4" r="0.55"/><circle cx="477.1" cy="297.8" r="0.55"/><circle cx="477.1" cy="287.2" r="0.55"/><circle cx="477.1" cy="276.7" r="0.55"/><circle cx="477.1" cy="266.1" r="0.4"/><circle cx="487.7" cy="329.5" r="0.55"/><circle cx="487.7" cy="319" r="0.55"/><circle cx="487.7" cy="308.4" r="0.55"/><circle cx="487.7" cy="297.8" r="0.55"/><circle cx="487.7" cy="287.2" r="0.55"/><circle cx="487.7" cy="276.7" r="0.4"/><circle cx="487.7" cy="266.1" r="0.4"/><circle cx="498.3" cy="329.5" r="0.55"/><circle cx="498.3" cy="319" r="0.55"/><circle cx="498.3" cy="308.4" r="0.55"/><circle cx="498.3" cy="297.8" r="0.55"/><circle cx="498.3" cy="287.2" r="0.55"/><circle cx="498.3" cy="276.7" r="0.4"/><circle cx="508.9" cy="329.5" r="0.55"/><circle cx="508.9" cy="319" r="0.55"/><circle cx="508.9" cy="308.4" r="0.55"/><circle cx="508.9" cy="297.8" r="0.55"/><circle cx="508.9" cy="287.2" r="0.4"/><circle cx="508.9" cy="276.7" r="0.4"/><path transform="translate(519.5,329.5) rotate(12)" d="M0.8,0L-2.4,-1.1L-2.4,1.1Z"/><path transform="translate(519.5,319) rotate(20)" d="M0.8,0L-2.4,-1.1L-2.4,1.1Z"/><path transform="translate(519.5,308.4) rotate(26)" d="M0.8,0L-2.4,-1.1L-2.4,1.1Z"/><circle cx="519.5" cy="297.8" r="0.55"/><circle cx="519.5" cy="287.2" r="0.4"/><path transform="translate(530.1,329.5) rotate(24)" d="M0.8,0L-2.4,-1.1L-2.4,1.1Z"/><path transform="translate(530.1,319) rotate(43)" d="M0.8,0L-2.4,-1.1L-2.4,1.1Z"/><path transform="translate(530.1,308.4) rotate(53)" d="M0.8,0L-2.4,-1.1L-2.4,1.1Z"/><circle cx="530.1" cy="297.8" r="0.55"/><circle cx="530.1" cy="287.2" r="0.4"/><path transform="translate(540.7,329.5) rotate(62)" d="M0.8,0L-2.4,-1.1L-2.4,1.1Z"/><path transform="translate(540.7,319) rotate(77)" d="M0.8,0L-2.4,-1.1L-2.4,1.1Z"/><path transform="translate(540.7,308.4) rotate(82)" d="M0.8,0L-2.4,-1.1L-2.4,1.1Z"/><circle cx="540.7" cy="297.8" r="0.4"/></g>
<g transform="translate(335.5,269.1) rotate(105)"><path d="M-8.0,0L0,0" stroke="#444" stroke-opacity="0.5" stroke-width="0.5"/><path d="M0,0L-5.0,-1.1L-5.0,1.1Z" fill="#111"/></g>
<g transform="translate(355.8,264.9) rotate(62)"><path d="M-8.0,0L0,0" stroke="#444" stroke-opacity="0.5" stroke-width="0.5"/><path d="M0,0L-5.0,-1.1L-5.0,1.1Z" fill="#111"/></g>
<g transform="translate(374.5,252.2) rotate(25)"><path d="M-6.4,0L0,0" stroke="#444" stroke-opacity="0.5" stroke-width="0.5"/><path d="M0,0L-4.0,-1.1L-4.0,1.1Z" fill="#111"/></g>
<g transform="translate(449.5,260.2) rotate(13)"><rect x="-7.0" y="-4.7" width="14" height="9.4" fill="#fff"/><text x="0" y="2.9" font-family="Liberation Sans" font-size="8" text-anchor="middle" fill="#3a3a3a">0</text></g>
<g transform="translate(438.3,268.5) rotate(13)"><rect x="-9.0" y="-4.7" width="18" height="9.4" fill="#fff"/><text x="0" y="2.9" font-family="Liberation Sans" font-size="8" text-anchor="middle" fill="#3a3a3a">10</text></g>
<g transform="translate(426.5,275.8) rotate(13)"><rect x="-9.0" y="-4.7" width="18" height="9.4" fill="#fff"/><text x="0" y="2.9" font-family="Liberation Sans" font-size="8" text-anchor="middle" fill="#3a3a3a">20</text></g>
<g transform="translate(414.3,282.9) rotate(13)"><rect x="-9.0" y="-4.7" width="18" height="9.4" fill="#fff"/><text x="0" y="2.9" font-family="Liberation Sans" font-size="8" text-anchor="middle" fill="#3a3a3a">30</text></g>
<g transform="translate(402.1,290.5) rotate(13)"><rect x="-9.0" y="-4.7" width="18" height="9.4" fill="#fff"/><text x="0" y="2.9" font-family="Liberation Sans" font-size="8" text-anchor="middle" fill="#3a3a3a">40</text></g>
<g transform="translate(391.2,298.2) rotate(13)"><rect x="-9.0" y="-4.7" width="18" height="9.4" fill="#fff"/><text x="0" y="2.9" font-family="Liberation Sans" font-size="8" text-anchor="middle" fill="#3a3a3a">50</text></g>
<g transform="translate(378.1,306.3) rotate(13)"><rect x="-9.0" y="-4.7" width="18" height="9.4" fill="#fff"/><text x="0" y="2.9" font-family="Liberation Sans" font-size="8" text-anchor="middle" fill="#3a3a3a">60</text></g>
<g transform="translate(361.8,313.5) rotate(13)"><rect x="-9.0" y="-4.7" width="18" height="9.4" fill="#fff"/><text x="0" y="2.9" font-family="Liberation Sans" font-size="8" text-anchor="middle" fill="#3a3a3a">70</text></g>
<g transform="translate(347.1,322.8) rotate(13)"><rect x="-9.0" y="-4.7" width="18" height="9.4" fill="#fff"/><text x="0" y="2.9" font-family="Liberation Sans" font-size="8" text-anchor="middle" fill="#3a3a3a">80</text></g>
<g transform="translate(327.7,331.3) rotate(13)"><rect x="-9.0" y="-4.7" width="18" height="9.4" fill="#fff"/><text x="0" y="2.9" font-family="Liberation Sans" font-size="8" text-anchor="middle" fill="#3a3a3a">90</text></g>
<path d="M379.1,235.6 391.4,240.5 407.7,245.5 424.1,251.2 440.5,256.9 456.8,262.6 469.1,267.5 482.2,274.5 508.3,287 529.2,296.1 537,300 541,302.5 541.8,334.3" stroke="#1818ee" stroke-width="1.9" fill="none" stroke-dasharray="3.2 1.9"/>
<path d="M322.8,211.7L332.1,211.7L327.5,218.3Z" fill="#fff" stroke="#555" stroke-width="0.7"/>
<path d="M324.3,219.20000000000002h6.4M325.3,220.5h4.4" stroke="#8aa" stroke-width="0.9"/>
<text x="335.1" y="214.5" font-family="Liberation Serif" font-size="9" fill="#222">Water level 4m</text>
<g transform="translate(341.3,232.20000000000002) rotate(50.0)"><path d="M0,-2.4L12.2,-2.4L12.2,-5.0L18.0,0L12.2,5.0L12.2,2.4L0,2.4Z" fill="#5b95d3" stroke="#4a7fb8" stroke-width="0.5"/></g>
<g font-family="Liberation Sans" font-size="8.4" fill="#2a2a2a" stroke="#2a2a2a" stroke-width="0.08"><text x="304.1" y="337.1" text-anchor="end">0</text><text x="304.1" y="326.5" text-anchor="end">1</text><text x="304.1" y="315.9" text-anchor="end">2</text><text x="304.1" y="305.4" text-anchor="end">3</text><text x="304.1" y="294.8" text-anchor="end">4</text><text x="304.1" y="284.2" text-anchor="end">5</text><text x="304.1" y="273.6" text-anchor="end">6</text><text x="304.1" y="263.1" text-anchor="end">7</text><text x="304.1" y="252.5" text-anchor="end">8</text><text x="304.1" y="241.9" text-anchor="end">9</text><text x="304.1" y="231.3" text-anchor="end">10</text><text x="304.1" y="220.8" text-anchor="end">11</text><text x="304.1" y="210.2" text-anchor="end">12</text><text x="304.1" y="199.6" text-anchor="end">13</text><text x="308.3" y="346.3" text-anchor="middle">0</text><text x="329.5" y="346.3" text-anchor="middle">2</text><text x="350.8" y="346.3" text-anchor="middle">4</text><text x="372" y="346.3" text-anchor="middle">6</text><text x="393.2" y="346.3" text-anchor="middle">8</text><text x="414.4" y="346.3" text-anchor="middle">10</text><text x="435.7" y="346.3" text-anchor="middle">12</text><text x="456.9" y="346.3" text-anchor="middle">14</text><text x="478.1" y="346.3" text-anchor="middle">16</text><text x="499.3" y="346.3" text-anchor="middle">18</text><text x="520.6" y="346.3" text-anchor="middle">20</text><text x="541.8" y="346.3" text-anchor="middle">22</text></g>
<text transform="translate(290.2,266.7) rotate(-90)" text-anchor="middle" font-family="Liberation Serif" font-size="10.5" fill="#1a1a1a" stroke="#1a1a1a" stroke-width="0.25">Heights(m)</text>
<text x="432.3" y="357.7" text-anchor="middle" font-family="Liberation Serif" font-size="10.4" fill="#1a1a1a" stroke="#1a1a1a" stroke-width="0.2">Distance from the bottom of the canal(m)</text>
<text x="413.0" y="377.4" text-anchor="middle" font-family="Liberation Serif" font-size="12.4" letter-spacing="0.45" fill="#111" stroke="#111" stroke-width="0.15">(<tspan font-weight="bold">d</tspan>) Water level 4 m</text></svg></body></html>
